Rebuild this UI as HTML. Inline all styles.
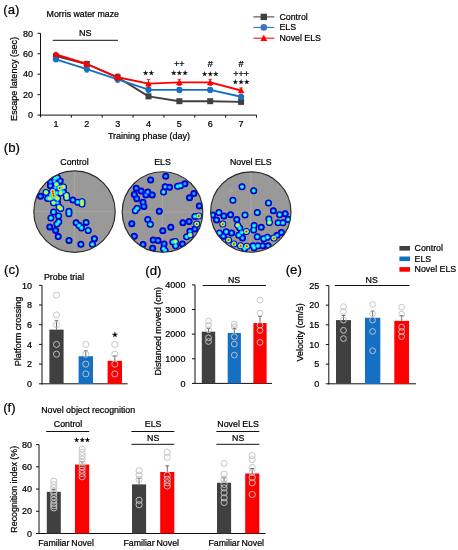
<!DOCTYPE html>
<html><head><meta charset="utf-8"><title>Figure</title>
<style>
html,body{margin:0;padding:0;background:#fff;}
body{width:458px;height:550px;overflow:hidden;}
svg{display:block;font-family:"Liberation Sans",Arial,sans-serif;}
text{stroke:#000;stroke-width:0.22px;}
</style></head><body>
<svg width="458" height="550" viewBox="0 0 458 550">
<rect width="458" height="550" fill="#fff"/>
<text x="3.3" y="14.3" font-size="13.2" text-anchor="start" fill="#000">(a)</text>
<text x="46.6" y="17" font-size="8.8" text-anchor="start" fill="#000">Morris water maze</text>
<line x1="40.5" y1="33.3" x2="40.5" y2="117.3" stroke="#111" stroke-width="1"/>
<line x1="40.0" y1="115.1" x2="256.5" y2="115.1" stroke="#111" stroke-width="1"/>
<line x1="37.5" y1="115.1" x2="40.5" y2="115.1" stroke="#111" stroke-width="1"/>
<text x="33.1" y="118.3" font-size="9" text-anchor="end" fill="#000">0</text>
<line x1="37.5" y1="94.64999999999999" x2="40.5" y2="94.64999999999999" stroke="#111" stroke-width="1"/>
<text x="33.1" y="97.85" font-size="9" text-anchor="end" fill="#000">20</text>
<line x1="37.5" y1="74.19999999999999" x2="40.5" y2="74.19999999999999" stroke="#111" stroke-width="1"/>
<text x="33.1" y="77.39999999999999" font-size="9" text-anchor="end" fill="#000">40</text>
<line x1="37.5" y1="53.74999999999999" x2="40.5" y2="53.74999999999999" stroke="#111" stroke-width="1"/>
<text x="33.1" y="56.949999999999996" font-size="9" text-anchor="end" fill="#000">60</text>
<line x1="37.5" y1="33.3" x2="40.5" y2="33.3" stroke="#111" stroke-width="1"/>
<text x="33.1" y="36.5" font-size="9" text-anchor="end" fill="#000">80</text>
<line x1="71.35714285714286" y1="115.1" x2="71.35714285714286" y2="117.69999999999999" stroke="#111" stroke-width="1"/>
<line x1="102.21428571428572" y1="115.1" x2="102.21428571428572" y2="117.69999999999999" stroke="#111" stroke-width="1"/>
<line x1="133.07142857142856" y1="115.1" x2="133.07142857142856" y2="117.69999999999999" stroke="#111" stroke-width="1"/>
<line x1="163.92857142857144" y1="115.1" x2="163.92857142857144" y2="117.69999999999999" stroke="#111" stroke-width="1"/>
<line x1="194.78571428571428" y1="115.1" x2="194.78571428571428" y2="117.69999999999999" stroke="#111" stroke-width="1"/>
<line x1="225.64285714285714" y1="115.1" x2="225.64285714285714" y2="117.69999999999999" stroke="#111" stroke-width="1"/>
<line x1="256.5" y1="115.1" x2="256.5" y2="117.69999999999999" stroke="#111" stroke-width="1"/>
<text x="55.92857142857143" y="126.8" font-size="9" text-anchor="middle" fill="#000">1</text>
<text x="86.78571428571428" y="126.8" font-size="9" text-anchor="middle" fill="#000">2</text>
<text x="117.64285714285714" y="126.8" font-size="9" text-anchor="middle" fill="#000">3</text>
<text x="148.5" y="126.8" font-size="9" text-anchor="middle" fill="#000">4</text>
<text x="179.35714285714286" y="126.8" font-size="9" text-anchor="middle" fill="#000">5</text>
<text x="210.21428571428572" y="126.8" font-size="9" text-anchor="middle" fill="#000">6</text>
<text x="241.07142857142858" y="126.8" font-size="9" text-anchor="middle" fill="#000">7</text>
<text x="149" y="138.6" font-size="9.0" text-anchor="middle" fill="#000">Training phase (day)</text>
<text x="16.9" y="78.9" font-size="9.05" text-anchor="middle" fill="#000" transform="rotate(-90 16.9 78.9)">Escape latency (sec)</text>
<line x1="55.92857142857143" y1="54.15899999999999" x2="55.92857142857143" y2="58.248999999999995" stroke="#404040" stroke-width="0.8"/>
<line x1="54.12857142857143" y1="54.15899999999999" x2="57.72857142857143" y2="54.15899999999999" stroke="#404040" stroke-width="0.8"/>
<line x1="54.12857142857143" y1="58.248999999999995" x2="57.72857142857143" y2="58.248999999999995" stroke="#404040" stroke-width="0.8"/>
<line x1="86.78571428571428" y1="61.418749999999996" x2="86.78571428571428" y2="66.53125" stroke="#404040" stroke-width="0.8"/>
<line x1="84.98571428571428" y1="61.418749999999996" x2="88.58571428571427" y2="61.418749999999996" stroke="#404040" stroke-width="0.8"/>
<line x1="84.98571428571428" y1="66.53125" x2="88.58571428571427" y2="66.53125" stroke="#404040" stroke-width="0.8"/>
<line x1="117.64285714285714" y1="74.2" x2="117.64285714285714" y2="80.335" stroke="#404040" stroke-width="0.8"/>
<line x1="115.84285714285714" y1="74.2" x2="119.44285714285714" y2="74.2" stroke="#404040" stroke-width="0.8"/>
<line x1="115.84285714285714" y1="80.335" x2="119.44285714285714" y2="80.335" stroke="#404040" stroke-width="0.8"/>
<line x1="148.5" y1="94.34325" x2="148.5" y2="98.43325" stroke="#404040" stroke-width="0.8"/>
<line x1="146.7" y1="94.34325" x2="150.3" y2="94.34325" stroke="#404040" stroke-width="0.8"/>
<line x1="146.7" y1="98.43325" x2="150.3" y2="98.43325" stroke="#404040" stroke-width="0.8"/>
<line x1="179.35714285714286" y1="99.66024999999999" x2="179.35714285714286" y2="102.72774999999999" stroke="#404040" stroke-width="0.8"/>
<line x1="177.55714285714285" y1="99.66024999999999" x2="181.15714285714287" y2="99.66024999999999" stroke="#404040" stroke-width="0.8"/>
<line x1="177.55714285714285" y1="102.72774999999999" x2="181.15714285714287" y2="102.72774999999999" stroke="#404040" stroke-width="0.8"/>
<line x1="210.21428571428572" y1="99.66024999999999" x2="210.21428571428572" y2="102.72774999999999" stroke="#404040" stroke-width="0.8"/>
<line x1="208.4142857142857" y1="99.66024999999999" x2="212.01428571428573" y2="99.66024999999999" stroke="#404040" stroke-width="0.8"/>
<line x1="208.4142857142857" y1="102.72774999999999" x2="212.01428571428573" y2="102.72774999999999" stroke="#404040" stroke-width="0.8"/>
<line x1="241.07142857142858" y1="100.37599999999999" x2="241.07142857142858" y2="103.44349999999999" stroke="#404040" stroke-width="0.8"/>
<line x1="239.27142857142857" y1="100.37599999999999" x2="242.8714285714286" y2="100.37599999999999" stroke="#404040" stroke-width="0.8"/>
<line x1="239.27142857142857" y1="103.44349999999999" x2="242.8714285714286" y2="103.44349999999999" stroke="#404040" stroke-width="0.8"/>
<polyline points="55.9,56.2 86.8,64.0 117.6,77.3 148.5,96.4 179.4,101.2 210.2,101.2 241.1,101.9" fill="none" stroke="#404040" stroke-width="1.9" stroke-linejoin="round"/>
<rect x="52.92857142857143" y="53.20399999999999" width="6" height="6" fill="#404040"/>
<rect x="83.78571428571428" y="60.974999999999994" width="6" height="6" fill="#404040"/>
<rect x="114.64285714285714" y="74.2675" width="6" height="6" fill="#404040"/>
<rect x="145.5" y="93.38825" width="6" height="6" fill="#404040"/>
<rect x="176.35714285714286" y="98.19399999999999" width="6" height="6" fill="#404040"/>
<rect x="207.21428571428572" y="98.19399999999999" width="6" height="6" fill="#404040"/>
<rect x="238.07142857142858" y="98.90974999999999" width="6" height="6" fill="#404040"/>
<line x1="55.92857142857143" y1="57.226499999999994" x2="55.92857142857143" y2="61.3165" stroke="#1470c4" stroke-width="0.8"/>
<line x1="54.12857142857143" y1="57.226499999999994" x2="57.72857142857143" y2="57.226499999999994" stroke="#1470c4" stroke-width="0.8"/>
<line x1="54.12857142857143" y1="61.3165" x2="57.72857142857143" y2="61.3165" stroke="#1470c4" stroke-width="0.8"/>
<line x1="86.78571428571428" y1="66.02" x2="86.78571428571428" y2="72.15499999999999" stroke="#1470c4" stroke-width="0.8"/>
<line x1="84.98571428571428" y1="66.02" x2="88.58571428571427" y2="66.02" stroke="#1470c4" stroke-width="0.8"/>
<line x1="84.98571428571428" y1="72.15499999999999" x2="88.58571428571427" y2="72.15499999999999" stroke="#1470c4" stroke-width="0.8"/>
<line x1="117.64285714285714" y1="76.245" x2="117.64285714285714" y2="82.38" stroke="#1470c4" stroke-width="0.8"/>
<line x1="115.84285714285714" y1="76.245" x2="119.44285714285714" y2="76.245" stroke="#1470c4" stroke-width="0.8"/>
<line x1="115.84285714285714" y1="82.38" x2="119.44285714285714" y2="82.38" stroke="#1470c4" stroke-width="0.8"/>
<line x1="148.5" y1="86.6745" x2="148.5" y2="92.80949999999999" stroke="#1470c4" stroke-width="0.8"/>
<line x1="146.7" y1="86.6745" x2="150.3" y2="86.6745" stroke="#1470c4" stroke-width="0.8"/>
<line x1="146.7" y1="92.80949999999999" x2="150.3" y2="92.80949999999999" stroke="#1470c4" stroke-width="0.8"/>
<line x1="179.35714285714286" y1="87.90149999999998" x2="179.35714285714286" y2="91.99149999999999" stroke="#1470c4" stroke-width="0.8"/>
<line x1="177.55714285714285" y1="87.90149999999998" x2="181.15714285714287" y2="87.90149999999998" stroke="#1470c4" stroke-width="0.8"/>
<line x1="177.55714285714285" y1="91.99149999999999" x2="181.15714285714287" y2="91.99149999999999" stroke="#1470c4" stroke-width="0.8"/>
<line x1="210.21428571428572" y1="87.90149999999998" x2="210.21428571428572" y2="91.99149999999999" stroke="#1470c4" stroke-width="0.8"/>
<line x1="208.4142857142857" y1="87.90149999999998" x2="212.01428571428573" y2="87.90149999999998" stroke="#1470c4" stroke-width="0.8"/>
<line x1="208.4142857142857" y1="91.99149999999999" x2="212.01428571428573" y2="91.99149999999999" stroke="#1470c4" stroke-width="0.8"/>
<line x1="241.07142857142858" y1="94.75224999999999" x2="241.07142857142858" y2="98.84224999999999" stroke="#1470c4" stroke-width="0.8"/>
<line x1="239.27142857142857" y1="94.75224999999999" x2="242.8714285714286" y2="94.75224999999999" stroke="#1470c4" stroke-width="0.8"/>
<line x1="239.27142857142857" y1="98.84224999999999" x2="242.8714285714286" y2="98.84224999999999" stroke="#1470c4" stroke-width="0.8"/>
<polyline points="55.9,59.3 86.8,69.1 117.6,79.3 148.5,89.7 179.4,89.9 210.2,89.9 241.1,96.8" fill="none" stroke="#1470c4" stroke-width="1.9" stroke-linejoin="round"/>
<circle cx="55.9" cy="59.3" r="3.1" fill="#1470c4"/>
<circle cx="86.8" cy="69.1" r="3.1" fill="#1470c4"/>
<circle cx="117.6" cy="79.3" r="3.1" fill="#1470c4"/>
<circle cx="148.5" cy="89.7" r="3.1" fill="#1470c4"/>
<circle cx="179.4" cy="89.9" r="3.1" fill="#1470c4"/>
<circle cx="210.2" cy="89.9" r="3.1" fill="#1470c4"/>
<circle cx="241.1" cy="96.8" r="3.1" fill="#1470c4"/>
<line x1="55.92857142857143" y1="52.42075" x2="55.92857142857143" y2="56.51075" stroke="#ff0000" stroke-width="0.8"/>
<line x1="54.12857142857143" y1="52.42075" x2="57.72857142857143" y2="52.42075" stroke="#ff0000" stroke-width="0.8"/>
<line x1="54.12857142857143" y1="56.51075" x2="57.72857142857143" y2="56.51075" stroke="#ff0000" stroke-width="0.8"/>
<line x1="86.78571428571428" y1="61.418749999999996" x2="86.78571428571428" y2="66.53125" stroke="#ff0000" stroke-width="0.8"/>
<line x1="84.98571428571428" y1="61.418749999999996" x2="88.58571428571427" y2="61.418749999999996" stroke="#ff0000" stroke-width="0.8"/>
<line x1="84.98571428571428" y1="66.53125" x2="88.58571428571427" y2="66.53125" stroke="#ff0000" stroke-width="0.8"/>
<line x1="117.64285714285714" y1="74.2" x2="117.64285714285714" y2="80.335" stroke="#ff0000" stroke-width="0.8"/>
<line x1="115.84285714285714" y1="74.2" x2="119.44285714285714" y2="74.2" stroke="#ff0000" stroke-width="0.8"/>
<line x1="115.84285714285714" y1="80.335" x2="119.44285714285714" y2="80.335" stroke="#ff0000" stroke-width="0.8"/>
<line x1="148.5" y1="79.517" x2="148.5" y2="87.697" stroke="#ff0000" stroke-width="0.8"/>
<line x1="146.7" y1="79.517" x2="150.3" y2="79.517" stroke="#ff0000" stroke-width="0.8"/>
<line x1="146.7" y1="87.697" x2="150.3" y2="87.697" stroke="#ff0000" stroke-width="0.8"/>
<line x1="179.35714285714286" y1="79.3125" x2="179.35714285714286" y2="85.44749999999999" stroke="#ff0000" stroke-width="0.8"/>
<line x1="177.55714285714285" y1="79.3125" x2="181.15714285714287" y2="79.3125" stroke="#ff0000" stroke-width="0.8"/>
<line x1="177.55714285714285" y1="85.44749999999999" x2="181.15714285714287" y2="85.44749999999999" stroke="#ff0000" stroke-width="0.8"/>
<line x1="210.21428571428572" y1="79.3125" x2="210.21428571428572" y2="85.44749999999999" stroke="#ff0000" stroke-width="0.8"/>
<line x1="208.4142857142857" y1="79.3125" x2="212.01428571428573" y2="79.3125" stroke="#ff0000" stroke-width="0.8"/>
<line x1="208.4142857142857" y1="85.44749999999999" x2="212.01428571428573" y2="85.44749999999999" stroke="#ff0000" stroke-width="0.8"/>
<line x1="241.07142857142858" y1="87.90149999999998" x2="241.07142857142858" y2="93.014" stroke="#ff0000" stroke-width="0.8"/>
<line x1="239.27142857142857" y1="87.90149999999998" x2="242.8714285714286" y2="87.90149999999998" stroke="#ff0000" stroke-width="0.8"/>
<line x1="239.27142857142857" y1="93.014" x2="242.8714285714286" y2="93.014" stroke="#ff0000" stroke-width="0.8"/>
<polyline points="55.9,54.5 86.8,64.0 117.6,77.3 148.5,83.6 179.4,82.4 210.2,82.4 241.1,90.5" fill="none" stroke="#ff0000" stroke-width="1.9" stroke-linejoin="round"/>
<polygon points="55.9,51.2 52.6,57.1 59.2,57.1" fill="#ff0000"/>
<polygon points="86.8,60.7 83.5,66.6 90.1,66.6" fill="#ff0000"/>
<polygon points="117.6,74.0 114.3,79.9 120.9,79.9" fill="#ff0000"/>
<polygon points="148.5,80.3 145.2,86.2 151.8,86.2" fill="#ff0000"/>
<polygon points="179.4,79.1 176.1,85.0 182.7,85.0" fill="#ff0000"/>
<polygon points="210.2,79.1 206.9,85.0 213.5,85.0" fill="#ff0000"/>
<polygon points="241.1,87.2 237.8,93.1 244.4,93.1" fill="#ff0000"/>
<text x="85.2" y="36.2" font-size="9" text-anchor="middle" fill="#000">NS</text>
<line x1="52.7" y1="40.3" x2="118" y2="40.3" stroke="#111" stroke-width="1"/>
<text x="148.5" y="74.8" font-size="6.3" text-anchor="middle" fill="#000" font-family="DejaVu Sans, sans-serif">★★</text>
<text x="179.35714285714286" y="66.5" font-size="9" text-anchor="middle" fill="#000">++</text>
<text x="179.35714285714286" y="75.3" font-size="6.3" text-anchor="middle" fill="#000" font-family="DejaVu Sans, sans-serif">★★★</text>
<text x="210.21428571428572" y="66.5" font-size="9" text-anchor="middle" fill="#000">#</text>
<text x="210.21428571428572" y="76" font-size="6.3" text-anchor="middle" fill="#000" font-family="DejaVu Sans, sans-serif">★★★</text>
<text x="241.07142857142858" y="66.5" font-size="9" text-anchor="middle" fill="#000">#</text>
<text x="241.07142857142858" y="76.5" font-size="9" text-anchor="middle" fill="#000">+++</text>
<text x="241.07142857142858" y="84.2" font-size="6.3" text-anchor="middle" fill="#000" font-family="DejaVu Sans, sans-serif">★★★</text>
<line x1="253.4" y1="16.9" x2="274.3" y2="16.9" stroke="#404040" stroke-width="1.05"/>
<rect x="260.6" y="13.7" width="6.4" height="6.4" fill="#404040"/>
<text x="279.4" y="19.799999999999997" font-size="8.8" text-anchor="start" fill="#000">Control</text>
<line x1="253.4" y1="27.4" x2="274.3" y2="27.4" stroke="#1470c4" stroke-width="1.05"/>
<circle cx="263.8" cy="27.4" r="3.3" fill="#3f70c6"/>
<text x="279.4" y="30.299999999999997" font-size="8.8" text-anchor="start" fill="#000">ELS</text>
<line x1="253.4" y1="38.2" x2="274.3" y2="38.2" stroke="#ff0000" stroke-width="1.05"/>
<polygon points="263.8,34.6 260.40000000000003,40.900000000000006 267.2,40.900000000000006" fill="#ff0000"/>
<text x="279.4" y="41.1" font-size="8.8" text-anchor="start" fill="#000">Novel ELS</text>
<text x="3.8" y="151.9" font-size="13.2" text-anchor="start" fill="#000">(b)</text>
<defs><filter id="bl" x="-5%" y="-5%" width="110%" height="110%"><feGaussianBlur stdDeviation="0.38"/></filter></defs>
<text x="74.5" y="164.6" font-size="8.8" text-anchor="middle" fill="#000">Control</text>
<clipPath id="cp1"><circle cx="74.5" cy="211.6" r="40.7"/></clipPath>
<circle cx="74.5" cy="211.6" r="40.7" fill="#999999"/>
<line x1="33.8" y1="211.6" x2="115.2" y2="211.6" stroke="#adadad" stroke-width="0.7"/>
<line x1="74.5" y1="170.89999999999998" x2="74.5" y2="252.3" stroke="#adadad" stroke-width="0.7"/>
<g clip-path="url(#cp1)"><g filter="url(#bl)">
<circle cx="55.3" cy="178.2" r="3.5" fill="#000098"/>
<circle cx="57.2" cy="177.3" r="3.5" fill="#000098"/>
<circle cx="60.2" cy="180.9" r="3.5" fill="#000098"/>
<circle cx="50.4" cy="185.8" r="3.5" fill="#000098"/>
<circle cx="56.4" cy="184.2" r="3.5" fill="#000098"/>
<circle cx="59.7" cy="188.0" r="3.5" fill="#000098"/>
<circle cx="61.8" cy="187.5" r="3.5" fill="#000098"/>
<circle cx="63.5" cy="186.9" r="3.5" fill="#000098"/>
<circle cx="46.0" cy="192.4" r="3.5" fill="#000098"/>
<circle cx="52.6" cy="191.3" r="3.5" fill="#000098"/>
<circle cx="53.1" cy="193.5" r="3.5" fill="#000098"/>
<circle cx="53.6" cy="195.7" r="3.5" fill="#000098"/>
<circle cx="55.8" cy="197.3" r="3.5" fill="#000098"/>
<circle cx="57.5" cy="198.6" r="3.5" fill="#000098"/>
<circle cx="60.7" cy="190.7" r="3.5" fill="#000098"/>
<circle cx="60.7" cy="192.9" r="3.5" fill="#000098"/>
<circle cx="66.5" cy="195.3" r="3.5" fill="#000098"/>
<circle cx="66.7" cy="197.8" r="3.5" fill="#000098"/>
<circle cx="47.6" cy="198.4" r="3.5" fill="#000098"/>
<circle cx="49.8" cy="198.4" r="3.5" fill="#000098"/>
<circle cx="51.8" cy="198.2" r="3.5" fill="#000098"/>
<circle cx="53.6" cy="202.8" r="3.5" fill="#000098"/>
<circle cx="59.1" cy="207.1" r="3.5" fill="#000098"/>
<circle cx="60.7" cy="208.4" r="3.5" fill="#000098"/>
<circle cx="57.5" cy="202.8" r="3.5" fill="#000098"/>
<circle cx="72.8" cy="200.0" r="3.5" fill="#000098"/>
<circle cx="77.7" cy="202.2" r="3.5" fill="#000098"/>
<circle cx="82.0" cy="201.7" r="3.5" fill="#000098"/>
<circle cx="82.0" cy="204.1" r="3.5" fill="#000098"/>
<circle cx="53.6" cy="212.0" r="3.5" fill="#000098"/>
<circle cx="68.9" cy="211.3" r="3.5" fill="#000098"/>
<circle cx="68.9" cy="213.7" r="3.5" fill="#000098"/>
<circle cx="40.5" cy="196.2" r="3.5" fill="#000098"/>
<circle cx="58.6" cy="215.9" r="3.5" fill="#000098"/>
<circle cx="50.9" cy="218.0" r="3.5" fill="#000098"/>
<circle cx="50.4" cy="182.0" r="3.5" fill="#000098"/>
<circle cx="63.5" cy="191.8" r="3.5" fill="#000098"/>
<circle cx="56.4" cy="192.9" r="3.5" fill="#000098"/>
<circle cx="50.9" cy="195.1" r="3.5" fill="#000098"/>
<circle cx="55.3" cy="187.5" r="3.5" fill="#000098"/>
<circle cx="54.2" cy="180.9" r="3.5" fill="#000098"/>
<circle cx="58.8" cy="221.8" r="3.5" fill="#000098"/>
<circle cx="56.9" cy="224.1" r="3.5" fill="#000098"/>
<circle cx="49.8" cy="227.0" r="3.5" fill="#000098"/>
<circle cx="55.6" cy="230.4" r="3.5" fill="#000098"/>
<circle cx="58.2" cy="236.6" r="3.5" fill="#000098"/>
<circle cx="69.0" cy="240.4" r="3.5" fill="#000098"/>
<circle cx="80.9" cy="244.3" r="3.5" fill="#000098"/>
<circle cx="92.4" cy="244.3" r="3.5" fill="#000098"/>
<circle cx="94.4" cy="238.7" r="3.5" fill="#000098"/>
<circle cx="88.2" cy="230.4" r="3.5" fill="#000098"/>
<circle cx="81.5" cy="227.9" r="3.5" fill="#000098"/>
<circle cx="79.0" cy="225.6" r="3.5" fill="#000098"/>
<circle cx="76.1" cy="222.8" r="3.5" fill="#000098"/>
<circle cx="86.1" cy="222.4" r="3.5" fill="#000098"/>
<circle cx="55.3" cy="178.2" r="3.0" fill="#0000d8"/>
<circle cx="57.2" cy="177.3" r="3.0" fill="#0000d8"/>
<circle cx="60.2" cy="180.9" r="3.0" fill="#0000d8"/>
<circle cx="50.4" cy="185.8" r="3.0" fill="#0000d8"/>
<circle cx="56.4" cy="184.2" r="3.0" fill="#0000d8"/>
<circle cx="59.7" cy="188.0" r="3.0" fill="#0000d8"/>
<circle cx="61.8" cy="187.5" r="3.0" fill="#0000d8"/>
<circle cx="63.5" cy="186.9" r="3.0" fill="#0000d8"/>
<circle cx="46.0" cy="192.4" r="3.0" fill="#0000d8"/>
<circle cx="52.6" cy="191.3" r="3.0" fill="#0000d8"/>
<circle cx="53.1" cy="193.5" r="3.0" fill="#0000d8"/>
<circle cx="53.6" cy="195.7" r="3.0" fill="#0000d8"/>
<circle cx="55.8" cy="197.3" r="3.0" fill="#0000d8"/>
<circle cx="57.5" cy="198.6" r="3.0" fill="#0000d8"/>
<circle cx="60.7" cy="190.7" r="3.0" fill="#0000d8"/>
<circle cx="60.7" cy="192.9" r="3.0" fill="#0000d8"/>
<circle cx="66.5" cy="195.3" r="3.0" fill="#0000d8"/>
<circle cx="66.7" cy="197.8" r="3.0" fill="#0000d8"/>
<circle cx="47.6" cy="198.4" r="3.0" fill="#0000d8"/>
<circle cx="49.8" cy="198.4" r="3.0" fill="#0000d8"/>
<circle cx="51.8" cy="198.2" r="3.0" fill="#0000d8"/>
<circle cx="53.6" cy="202.8" r="3.0" fill="#0000d8"/>
<circle cx="59.1" cy="207.1" r="3.0" fill="#0000d8"/>
<circle cx="60.7" cy="208.4" r="3.0" fill="#0000d8"/>
<circle cx="57.5" cy="202.8" r="3.0" fill="#0000d8"/>
<circle cx="72.8" cy="200.0" r="3.0" fill="#0000d8"/>
<circle cx="77.7" cy="202.2" r="3.0" fill="#0000d8"/>
<circle cx="82.0" cy="201.7" r="3.0" fill="#0000d8"/>
<circle cx="82.0" cy="204.1" r="3.0" fill="#0000d8"/>
<circle cx="53.6" cy="212.0" r="3.0" fill="#0000d8"/>
<circle cx="68.9" cy="211.3" r="3.0" fill="#0000d8"/>
<circle cx="68.9" cy="213.7" r="3.0" fill="#0000d8"/>
<circle cx="40.5" cy="196.2" r="3.0" fill="#0000d8"/>
<circle cx="58.6" cy="215.9" r="3.0" fill="#0000d8"/>
<circle cx="50.9" cy="218.0" r="3.0" fill="#0000d8"/>
<circle cx="50.4" cy="182.0" r="3.0" fill="#0000d8"/>
<circle cx="63.5" cy="191.8" r="3.0" fill="#0000d8"/>
<circle cx="56.4" cy="192.9" r="3.0" fill="#0000d8"/>
<circle cx="50.9" cy="195.1" r="3.0" fill="#0000d8"/>
<circle cx="55.3" cy="187.5" r="3.0" fill="#0000d8"/>
<circle cx="54.2" cy="180.9" r="3.0" fill="#0000d8"/>
<circle cx="58.8" cy="221.8" r="3.0" fill="#0000d8"/>
<circle cx="56.9" cy="224.1" r="3.0" fill="#0000d8"/>
<circle cx="49.8" cy="227.0" r="3.0" fill="#0000d8"/>
<circle cx="55.6" cy="230.4" r="3.0" fill="#0000d8"/>
<circle cx="58.2" cy="236.6" r="3.0" fill="#0000d8"/>
<circle cx="69.0" cy="240.4" r="3.0" fill="#0000d8"/>
<circle cx="80.9" cy="244.3" r="3.0" fill="#0000d8"/>
<circle cx="92.4" cy="244.3" r="3.0" fill="#0000d8"/>
<circle cx="94.4" cy="238.7" r="3.0" fill="#0000d8"/>
<circle cx="88.2" cy="230.4" r="3.0" fill="#0000d8"/>
<circle cx="81.5" cy="227.9" r="3.0" fill="#0000d8"/>
<circle cx="79.0" cy="225.6" r="3.0" fill="#0000d8"/>
<circle cx="76.1" cy="222.8" r="3.0" fill="#0000d8"/>
<circle cx="86.1" cy="222.4" r="3.0" fill="#0000d8"/>
<circle cx="55.3" cy="178.2" r="2.4" fill="#0010ff"/>
<circle cx="57.2" cy="177.3" r="2.4" fill="#0010ff"/>
<circle cx="60.2" cy="180.9" r="2.4" fill="#0010ff"/>
<circle cx="50.4" cy="185.8" r="2.4" fill="#0010ff"/>
<circle cx="56.4" cy="184.2" r="2.4" fill="#0010ff"/>
<circle cx="59.7" cy="188.0" r="2.4" fill="#0010ff"/>
<circle cx="61.8" cy="187.5" r="2.4" fill="#0010ff"/>
<circle cx="63.5" cy="186.9" r="2.4" fill="#0010ff"/>
<circle cx="46.0" cy="192.4" r="2.4" fill="#0010ff"/>
<circle cx="52.6" cy="191.3" r="2.4" fill="#0010ff"/>
<circle cx="53.1" cy="193.5" r="2.4" fill="#0010ff"/>
<circle cx="53.6" cy="195.7" r="2.4" fill="#0010ff"/>
<circle cx="55.8" cy="197.3" r="2.4" fill="#0010ff"/>
<circle cx="57.5" cy="198.6" r="2.4" fill="#0010ff"/>
<circle cx="60.7" cy="190.7" r="2.4" fill="#0010ff"/>
<circle cx="60.7" cy="192.9" r="2.4" fill="#0010ff"/>
<circle cx="66.5" cy="195.3" r="2.4" fill="#0010ff"/>
<circle cx="66.7" cy="197.8" r="2.4" fill="#0010ff"/>
<circle cx="47.6" cy="198.4" r="2.4" fill="#0010ff"/>
<circle cx="49.8" cy="198.4" r="2.4" fill="#0010ff"/>
<circle cx="51.8" cy="198.2" r="2.4" fill="#0010ff"/>
<circle cx="53.6" cy="202.8" r="2.4" fill="#0010ff"/>
<circle cx="59.1" cy="207.1" r="2.4" fill="#0010ff"/>
<circle cx="60.7" cy="208.4" r="2.4" fill="#0010ff"/>
<circle cx="57.5" cy="202.8" r="2.4" fill="#0010ff"/>
<circle cx="72.8" cy="200.0" r="2.4" fill="#0010ff"/>
<circle cx="77.7" cy="202.2" r="2.4" fill="#0010ff"/>
<circle cx="82.0" cy="201.7" r="2.4" fill="#0010ff"/>
<circle cx="82.0" cy="204.1" r="2.4" fill="#0010ff"/>
<circle cx="53.6" cy="212.0" r="2.4" fill="#0010ff"/>
<circle cx="68.9" cy="211.3" r="2.4" fill="#0010ff"/>
<circle cx="68.9" cy="213.7" r="2.4" fill="#0010ff"/>
<circle cx="40.5" cy="196.2" r="2.4" fill="#0010ff"/>
<circle cx="58.6" cy="215.9" r="2.4" fill="#0010ff"/>
<circle cx="50.9" cy="218.0" r="2.4" fill="#0010ff"/>
<circle cx="50.4" cy="182.0" r="2.4" fill="#0010ff"/>
<circle cx="63.5" cy="191.8" r="2.4" fill="#0010ff"/>
<circle cx="56.4" cy="192.9" r="2.4" fill="#0010ff"/>
<circle cx="50.9" cy="195.1" r="2.4" fill="#0010ff"/>
<circle cx="55.3" cy="187.5" r="2.4" fill="#0010ff"/>
<circle cx="54.2" cy="180.9" r="2.4" fill="#0010ff"/>
<circle cx="58.8" cy="221.8" r="2.4" fill="#0010ff"/>
<circle cx="56.9" cy="224.1" r="2.4" fill="#0010ff"/>
<circle cx="49.8" cy="227.0" r="2.4" fill="#0010ff"/>
<circle cx="55.6" cy="230.4" r="2.4" fill="#0010ff"/>
<circle cx="58.2" cy="236.6" r="2.4" fill="#0010ff"/>
<circle cx="69.0" cy="240.4" r="2.4" fill="#0010ff"/>
<circle cx="80.9" cy="244.3" r="2.4" fill="#0010ff"/>
<circle cx="92.4" cy="244.3" r="2.4" fill="#0010ff"/>
<circle cx="94.4" cy="238.7" r="2.4" fill="#0010ff"/>
<circle cx="88.2" cy="230.4" r="2.4" fill="#0010ff"/>
<circle cx="81.5" cy="227.9" r="2.4" fill="#0010ff"/>
<circle cx="79.0" cy="225.6" r="2.4" fill="#0010ff"/>
<circle cx="76.1" cy="222.8" r="2.4" fill="#0010ff"/>
<circle cx="86.1" cy="222.4" r="2.4" fill="#0010ff"/>
<circle cx="55.3" cy="178.2" r="1.8" fill="#0050ff"/>
<circle cx="57.2" cy="177.3" r="1.8" fill="#0050ff"/>
<circle cx="60.2" cy="180.9" r="1.8" fill="#0050ff"/>
<circle cx="50.4" cy="185.8" r="1.8" fill="#0050ff"/>
<circle cx="56.4" cy="184.2" r="1.8" fill="#0050ff"/>
<circle cx="59.7" cy="188.0" r="1.8" fill="#0050ff"/>
<circle cx="61.8" cy="187.5" r="1.8" fill="#0050ff"/>
<circle cx="63.5" cy="186.9" r="1.8" fill="#0050ff"/>
<circle cx="46.0" cy="192.4" r="1.8" fill="#0050ff"/>
<circle cx="52.6" cy="191.3" r="1.8" fill="#0050ff"/>
<circle cx="53.1" cy="193.5" r="1.8" fill="#0050ff"/>
<circle cx="53.6" cy="195.7" r="1.8" fill="#0050ff"/>
<circle cx="55.8" cy="197.3" r="1.8" fill="#0050ff"/>
<circle cx="57.5" cy="198.6" r="1.8" fill="#0050ff"/>
<circle cx="60.7" cy="190.7" r="1.8" fill="#0050ff"/>
<circle cx="60.7" cy="192.9" r="1.8" fill="#0050ff"/>
<circle cx="66.5" cy="195.3" r="1.8" fill="#0050ff"/>
<circle cx="66.7" cy="197.8" r="1.8" fill="#0050ff"/>
<circle cx="47.6" cy="198.4" r="1.8" fill="#0050ff"/>
<circle cx="49.8" cy="198.4" r="1.8" fill="#0050ff"/>
<circle cx="51.8" cy="198.2" r="1.8" fill="#0050ff"/>
<circle cx="53.6" cy="202.8" r="1.8" fill="#0050ff"/>
<circle cx="59.1" cy="207.1" r="1.8" fill="#0050ff"/>
<circle cx="60.7" cy="208.4" r="1.8" fill="#0050ff"/>
<circle cx="57.5" cy="202.8" r="1.8" fill="#0050ff"/>
<circle cx="72.8" cy="200.0" r="1.8" fill="#0050ff"/>
<circle cx="77.7" cy="202.2" r="1.8" fill="#0050ff"/>
<circle cx="82.0" cy="201.7" r="1.8" fill="#0050ff"/>
<circle cx="82.0" cy="204.1" r="1.8" fill="#0050ff"/>
<circle cx="53.6" cy="212.0" r="1.8" fill="#0050ff"/>
<circle cx="68.9" cy="211.3" r="1.8" fill="#0050ff"/>
<circle cx="68.9" cy="213.7" r="1.8" fill="#0050ff"/>
<circle cx="40.5" cy="196.2" r="1.8" fill="#0050ff"/>
<circle cx="58.6" cy="215.9" r="1.8" fill="#0050ff"/>
<circle cx="50.9" cy="218.0" r="1.8" fill="#0050ff"/>
<circle cx="50.4" cy="182.0" r="1.8" fill="#0050ff"/>
<circle cx="63.5" cy="191.8" r="1.8" fill="#0050ff"/>
<circle cx="56.4" cy="192.9" r="1.8" fill="#0050ff"/>
<circle cx="50.9" cy="195.1" r="1.8" fill="#0050ff"/>
<circle cx="55.3" cy="187.5" r="1.8" fill="#0050ff"/>
<circle cx="54.2" cy="180.9" r="1.8" fill="#0050ff"/>
<circle cx="58.8" cy="221.8" r="1.8" fill="#0050ff"/>
<circle cx="56.9" cy="224.1" r="1.8" fill="#0050ff"/>
<circle cx="49.8" cy="227.0" r="1.8" fill="#0050ff"/>
<circle cx="55.6" cy="230.4" r="1.8" fill="#0050ff"/>
<circle cx="58.2" cy="236.6" r="1.8" fill="#0050ff"/>
<circle cx="69.0" cy="240.4" r="1.8" fill="#0050ff"/>
<circle cx="80.9" cy="244.3" r="1.8" fill="#0050ff"/>
<circle cx="92.4" cy="244.3" r="1.8" fill="#0050ff"/>
<circle cx="94.4" cy="238.7" r="1.8" fill="#0050ff"/>
<circle cx="88.2" cy="230.4" r="1.8" fill="#0050ff"/>
<circle cx="81.5" cy="227.9" r="1.8" fill="#0050ff"/>
<circle cx="79.0" cy="225.6" r="1.8" fill="#0050ff"/>
<circle cx="76.1" cy="222.8" r="1.8" fill="#0050ff"/>
<circle cx="86.1" cy="222.4" r="1.8" fill="#0050ff"/>
<circle cx="55.3" cy="178.2" r="1.25" fill="#28a8ff"/>
<circle cx="57.2" cy="177.3" r="1.25" fill="#28a8ff"/>
<circle cx="60.2" cy="180.9" r="1.25" fill="#28a8ff"/>
<circle cx="50.4" cy="185.8" r="1.25" fill="#28a8ff"/>
<circle cx="56.4" cy="184.2" r="1.25" fill="#28a8ff"/>
<circle cx="59.7" cy="188.0" r="1.25" fill="#28a8ff"/>
<circle cx="61.8" cy="187.5" r="1.25" fill="#28a8ff"/>
<circle cx="63.5" cy="186.9" r="1.25" fill="#28a8ff"/>
<circle cx="46.0" cy="192.4" r="1.25" fill="#28a8ff"/>
<circle cx="52.6" cy="191.3" r="1.25" fill="#28a8ff"/>
<circle cx="53.1" cy="193.5" r="1.25" fill="#28a8ff"/>
<circle cx="53.6" cy="195.7" r="1.25" fill="#28a8ff"/>
<circle cx="55.8" cy="197.3" r="1.25" fill="#28a8ff"/>
<circle cx="57.5" cy="198.6" r="1.25" fill="#28a8ff"/>
<circle cx="60.7" cy="190.7" r="1.25" fill="#28a8ff"/>
<circle cx="60.7" cy="192.9" r="1.25" fill="#28a8ff"/>
<circle cx="66.5" cy="195.3" r="1.25" fill="#28a8ff"/>
<circle cx="66.7" cy="197.8" r="1.25" fill="#28a8ff"/>
<circle cx="47.6" cy="198.4" r="1.25" fill="#28a8ff"/>
<circle cx="49.8" cy="198.4" r="1.25" fill="#28a8ff"/>
<circle cx="51.8" cy="198.2" r="1.25" fill="#28a8ff"/>
<circle cx="53.6" cy="202.8" r="1.25" fill="#28a8ff"/>
<circle cx="59.1" cy="207.1" r="1.25" fill="#28a8ff"/>
<circle cx="60.7" cy="208.4" r="1.25" fill="#28a8ff"/>
<circle cx="57.5" cy="202.8" r="1.25" fill="#28a8ff"/>
<circle cx="72.8" cy="200.0" r="1.25" fill="#28a8ff"/>
<circle cx="77.7" cy="202.2" r="1.25" fill="#28a8ff"/>
<circle cx="82.0" cy="201.7" r="1.25" fill="#28a8ff"/>
<circle cx="82.0" cy="204.1" r="1.25" fill="#28a8ff"/>
<circle cx="53.6" cy="212.0" r="1.25" fill="#28a8ff"/>
<circle cx="68.9" cy="211.3" r="1.25" fill="#28a8ff"/>
<circle cx="68.9" cy="213.7" r="1.25" fill="#28a8ff"/>
<circle cx="40.5" cy="196.2" r="1.25" fill="#28a8ff"/>
<circle cx="58.6" cy="215.9" r="1.25" fill="#28a8ff"/>
<circle cx="50.9" cy="218.0" r="1.25" fill="#28a8ff"/>
<circle cx="50.4" cy="182.0" r="1.25" fill="#28a8ff"/>
<circle cx="63.5" cy="191.8" r="1.25" fill="#28a8ff"/>
<circle cx="56.4" cy="192.9" r="1.25" fill="#28a8ff"/>
<circle cx="50.9" cy="195.1" r="1.25" fill="#28a8ff"/>
<circle cx="55.3" cy="187.5" r="1.25" fill="#28a8ff"/>
<circle cx="54.2" cy="180.9" r="1.25" fill="#28a8ff"/>
<circle cx="58.8" cy="221.8" r="1.25" fill="#28a8ff"/>
<circle cx="56.9" cy="224.1" r="1.25" fill="#28a8ff"/>
<circle cx="49.8" cy="227.0" r="1.25" fill="#28a8ff"/>
<circle cx="55.6" cy="230.4" r="1.25" fill="#28a8ff"/>
<circle cx="58.2" cy="236.6" r="1.25" fill="#28a8ff"/>
<circle cx="69.0" cy="240.4" r="1.25" fill="#28a8ff"/>
<circle cx="80.9" cy="244.3" r="1.25" fill="#28a8ff"/>
<circle cx="92.4" cy="244.3" r="1.25" fill="#28a8ff"/>
<circle cx="94.4" cy="238.7" r="1.25" fill="#28a8ff"/>
<circle cx="88.2" cy="230.4" r="1.25" fill="#28a8ff"/>
<circle cx="81.5" cy="227.9" r="1.25" fill="#28a8ff"/>
<circle cx="79.0" cy="225.6" r="1.25" fill="#28a8ff"/>
<circle cx="76.1" cy="222.8" r="1.25" fill="#28a8ff"/>
<circle cx="86.1" cy="222.4" r="1.25" fill="#28a8ff"/>
<circle cx="55.3" cy="178.2" r="1.5" fill="#18a8ff"/>
<circle cx="57.2" cy="177.3" r="1.5" fill="#18a8ff"/>
<circle cx="60.2" cy="180.9" r="1.5" fill="#18a8ff"/>
<circle cx="50.4" cy="185.8" r="1.5" fill="#18a8ff"/>
<circle cx="56.4" cy="184.2" r="1.5" fill="#18a8ff"/>
<circle cx="59.7" cy="188.0" r="1.5" fill="#18a8ff"/>
<circle cx="61.8" cy="187.5" r="1.5" fill="#18a8ff"/>
<circle cx="63.5" cy="186.9" r="1.5" fill="#18a8ff"/>
<circle cx="46.0" cy="192.4" r="1.5" fill="#18a8ff"/>
<circle cx="52.6" cy="191.3" r="1.5" fill="#18a8ff"/>
<circle cx="53.1" cy="193.5" r="1.5" fill="#18a8ff"/>
<circle cx="53.6" cy="195.7" r="1.5" fill="#18a8ff"/>
<circle cx="55.8" cy="197.3" r="1.5" fill="#18a8ff"/>
<circle cx="57.5" cy="198.6" r="1.5" fill="#18a8ff"/>
<circle cx="60.7" cy="190.7" r="1.5" fill="#18a8ff"/>
<circle cx="60.7" cy="192.9" r="1.5" fill="#18a8ff"/>
<circle cx="66.5" cy="195.3" r="1.5" fill="#18a8ff"/>
<circle cx="66.7" cy="197.8" r="1.5" fill="#18a8ff"/>
<circle cx="47.6" cy="198.4" r="1.5" fill="#18a8ff"/>
<circle cx="49.8" cy="198.4" r="1.5" fill="#18a8ff"/>
<circle cx="51.8" cy="198.2" r="1.5" fill="#18a8ff"/>
<circle cx="53.6" cy="202.8" r="1.5" fill="#18a8ff"/>
<circle cx="59.1" cy="207.1" r="1.5" fill="#18a8ff"/>
<circle cx="60.7" cy="208.4" r="1.5" fill="#18a8ff"/>
<circle cx="57.5" cy="202.8" r="1.5" fill="#18a8ff"/>
<circle cx="72.8" cy="200.0" r="1.5" fill="#18a8ff"/>
<circle cx="77.7" cy="202.2" r="1.5" fill="#18a8ff"/>
<circle cx="82.0" cy="201.7" r="1.5" fill="#18a8ff"/>
<circle cx="82.0" cy="204.1" r="1.5" fill="#18a8ff"/>
<circle cx="53.6" cy="212.0" r="1.5" fill="#18a8ff"/>
<circle cx="68.9" cy="211.3" r="1.5" fill="#18a8ff"/>
<circle cx="68.9" cy="213.7" r="1.5" fill="#18a8ff"/>
<circle cx="58.6" cy="215.9" r="1.5" fill="#18a8ff"/>
<circle cx="50.9" cy="218.0" r="1.5" fill="#18a8ff"/>
<circle cx="63.5" cy="191.8" r="1.5" fill="#18a8ff"/>
<circle cx="56.4" cy="192.9" r="1.5" fill="#18a8ff"/>
<circle cx="50.9" cy="195.1" r="1.5" fill="#18a8ff"/>
<circle cx="55.3" cy="187.5" r="1.5" fill="#18a8ff"/>
<circle cx="54.2" cy="180.9" r="1.5" fill="#18a8ff"/>
<circle cx="58.8" cy="221.8" r="1.5" fill="#18a8ff"/>
<circle cx="56.9" cy="224.1" r="1.5" fill="#18a8ff"/>
<circle cx="58.2" cy="236.6" r="1.5" fill="#18a8ff"/>
<circle cx="69.0" cy="240.4" r="1.5" fill="#18a8ff"/>
<circle cx="80.9" cy="244.3" r="1.5" fill="#18a8ff"/>
<circle cx="92.4" cy="244.3" r="1.5" fill="#18a8ff"/>
<circle cx="94.4" cy="238.7" r="1.5" fill="#18a8ff"/>
<circle cx="88.2" cy="230.4" r="1.5" fill="#18a8ff"/>
<circle cx="81.5" cy="227.9" r="1.5" fill="#18a8ff"/>
<circle cx="79.0" cy="225.6" r="1.5" fill="#18a8ff"/>
<circle cx="76.1" cy="222.8" r="1.5" fill="#18a8ff"/>
<circle cx="86.1" cy="222.4" r="1.5" fill="#18a8ff"/>
<circle cx="55.3" cy="178.2" r="0.9" fill="#48e0ff"/>
<circle cx="57.2" cy="177.3" r="0.9" fill="#48e0ff"/>
<circle cx="60.2" cy="180.9" r="0.9" fill="#48e0ff"/>
<circle cx="50.4" cy="185.8" r="0.9" fill="#48e0ff"/>
<circle cx="56.4" cy="184.2" r="0.9" fill="#48e0ff"/>
<circle cx="59.7" cy="188.0" r="0.9" fill="#48e0ff"/>
<circle cx="61.8" cy="187.5" r="0.9" fill="#48e0ff"/>
<circle cx="63.5" cy="186.9" r="0.9" fill="#48e0ff"/>
<circle cx="46.0" cy="192.4" r="0.9" fill="#48e0ff"/>
<circle cx="52.6" cy="191.3" r="0.9" fill="#48e0ff"/>
<circle cx="53.1" cy="193.5" r="0.9" fill="#48e0ff"/>
<circle cx="53.6" cy="195.7" r="0.9" fill="#48e0ff"/>
<circle cx="55.8" cy="197.3" r="0.9" fill="#48e0ff"/>
<circle cx="57.5" cy="198.6" r="0.9" fill="#48e0ff"/>
<circle cx="60.7" cy="190.7" r="0.9" fill="#48e0ff"/>
<circle cx="60.7" cy="192.9" r="0.9" fill="#48e0ff"/>
<circle cx="66.5" cy="195.3" r="0.9" fill="#48e0ff"/>
<circle cx="66.7" cy="197.8" r="0.9" fill="#48e0ff"/>
<circle cx="47.6" cy="198.4" r="0.9" fill="#48e0ff"/>
<circle cx="49.8" cy="198.4" r="0.9" fill="#48e0ff"/>
<circle cx="51.8" cy="198.2" r="0.9" fill="#48e0ff"/>
<circle cx="53.6" cy="202.8" r="0.9" fill="#48e0ff"/>
<circle cx="59.1" cy="207.1" r="0.9" fill="#48e0ff"/>
<circle cx="60.7" cy="208.4" r="0.9" fill="#48e0ff"/>
<circle cx="57.5" cy="202.8" r="0.9" fill="#48e0ff"/>
<circle cx="72.8" cy="200.0" r="0.9" fill="#48e0ff"/>
<circle cx="77.7" cy="202.2" r="0.9" fill="#48e0ff"/>
<circle cx="82.0" cy="201.7" r="0.9" fill="#48e0ff"/>
<circle cx="82.0" cy="204.1" r="0.9" fill="#48e0ff"/>
<circle cx="53.6" cy="212.0" r="0.9" fill="#48e0ff"/>
<circle cx="68.9" cy="211.3" r="0.9" fill="#48e0ff"/>
<circle cx="68.9" cy="213.7" r="0.9" fill="#48e0ff"/>
<circle cx="58.6" cy="215.9" r="0.9" fill="#48e0ff"/>
<circle cx="50.9" cy="218.0" r="0.9" fill="#48e0ff"/>
<circle cx="63.5" cy="191.8" r="0.9" fill="#48e0ff"/>
<circle cx="56.4" cy="192.9" r="0.9" fill="#48e0ff"/>
<circle cx="50.9" cy="195.1" r="0.9" fill="#48e0ff"/>
<circle cx="55.3" cy="187.5" r="0.9" fill="#48e0ff"/>
<circle cx="54.2" cy="180.9" r="0.9" fill="#48e0ff"/>
<circle cx="58.8" cy="221.8" r="0.9" fill="#48e0ff"/>
<circle cx="56.9" cy="224.1" r="0.9" fill="#48e0ff"/>
<circle cx="58.2" cy="236.6" r="0.9" fill="#48e0ff"/>
<circle cx="69.0" cy="240.4" r="0.9" fill="#48e0ff"/>
<circle cx="80.9" cy="244.3" r="0.9" fill="#48e0ff"/>
<circle cx="92.4" cy="244.3" r="0.9" fill="#48e0ff"/>
<circle cx="94.4" cy="238.7" r="0.9" fill="#48e0ff"/>
<circle cx="88.2" cy="230.4" r="0.9" fill="#48e0ff"/>
<circle cx="81.5" cy="227.9" r="0.9" fill="#48e0ff"/>
<circle cx="79.0" cy="225.6" r="0.9" fill="#48e0ff"/>
<circle cx="76.1" cy="222.8" r="0.9" fill="#48e0ff"/>
<circle cx="86.1" cy="222.4" r="0.9" fill="#48e0ff"/>
<circle cx="55.3" cy="178.2" r="2.1" fill="#0098ff"/>
<circle cx="57.2" cy="177.3" r="2.1" fill="#0098ff"/>
<circle cx="56.4" cy="184.2" r="2.1" fill="#0098ff"/>
<circle cx="59.7" cy="188.0" r="2.1" fill="#0098ff"/>
<circle cx="61.8" cy="187.5" r="2.1" fill="#0098ff"/>
<circle cx="63.5" cy="186.9" r="2.1" fill="#0098ff"/>
<circle cx="46.0" cy="192.4" r="2.1" fill="#0098ff"/>
<circle cx="52.6" cy="191.3" r="2.1" fill="#0098ff"/>
<circle cx="53.1" cy="193.5" r="2.1" fill="#0098ff"/>
<circle cx="53.6" cy="195.7" r="2.1" fill="#0098ff"/>
<circle cx="55.8" cy="197.3" r="2.1" fill="#0098ff"/>
<circle cx="57.5" cy="198.6" r="2.1" fill="#0098ff"/>
<circle cx="60.7" cy="190.7" r="2.1" fill="#0098ff"/>
<circle cx="60.7" cy="192.9" r="2.1" fill="#0098ff"/>
<circle cx="66.5" cy="195.3" r="2.1" fill="#0098ff"/>
<circle cx="66.7" cy="197.8" r="2.1" fill="#0098ff"/>
<circle cx="47.6" cy="198.4" r="2.1" fill="#0098ff"/>
<circle cx="49.8" cy="198.4" r="2.1" fill="#0098ff"/>
<circle cx="51.8" cy="198.2" r="2.1" fill="#0098ff"/>
<circle cx="53.6" cy="202.8" r="2.1" fill="#0098ff"/>
<circle cx="59.1" cy="207.1" r="2.1" fill="#0098ff"/>
<circle cx="60.7" cy="208.4" r="2.1" fill="#0098ff"/>
<circle cx="77.7" cy="202.2" r="2.1" fill="#0098ff"/>
<circle cx="82.0" cy="201.7" r="2.1" fill="#0098ff"/>
<circle cx="82.0" cy="204.1" r="2.1" fill="#0098ff"/>
<circle cx="53.6" cy="212.0" r="2.1" fill="#0098ff"/>
<circle cx="68.9" cy="211.3" r="2.1" fill="#0098ff"/>
<circle cx="68.9" cy="213.7" r="2.1" fill="#0098ff"/>
<circle cx="58.6" cy="215.9" r="2.1" fill="#0098ff"/>
<circle cx="50.9" cy="218.0" r="2.1" fill="#0098ff"/>
<circle cx="56.4" cy="192.9" r="2.1" fill="#0098ff"/>
<circle cx="50.9" cy="195.1" r="2.1" fill="#0098ff"/>
<circle cx="58.8" cy="221.8" r="2.1" fill="#0098ff"/>
<circle cx="56.9" cy="224.1" r="2.1" fill="#0098ff"/>
<circle cx="92.4" cy="244.3" r="2.1" fill="#0098ff"/>
<circle cx="88.2" cy="230.4" r="2.1" fill="#0098ff"/>
<circle cx="81.5" cy="227.9" r="2.1" fill="#0098ff"/>
<circle cx="79.0" cy="225.6" r="2.1" fill="#0098ff"/>
<circle cx="55.3" cy="178.2" r="1.6" fill="#00dcff"/>
<circle cx="57.2" cy="177.3" r="1.6" fill="#00dcff"/>
<circle cx="56.4" cy="184.2" r="1.6" fill="#00dcff"/>
<circle cx="59.7" cy="188.0" r="1.6" fill="#00dcff"/>
<circle cx="61.8" cy="187.5" r="1.6" fill="#00dcff"/>
<circle cx="63.5" cy="186.9" r="1.6" fill="#00dcff"/>
<circle cx="46.0" cy="192.4" r="1.6" fill="#00dcff"/>
<circle cx="52.6" cy="191.3" r="1.6" fill="#00dcff"/>
<circle cx="53.1" cy="193.5" r="1.6" fill="#00dcff"/>
<circle cx="53.6" cy="195.7" r="1.6" fill="#00dcff"/>
<circle cx="55.8" cy="197.3" r="1.6" fill="#00dcff"/>
<circle cx="57.5" cy="198.6" r="1.6" fill="#00dcff"/>
<circle cx="60.7" cy="190.7" r="1.6" fill="#00dcff"/>
<circle cx="60.7" cy="192.9" r="1.6" fill="#00dcff"/>
<circle cx="66.5" cy="195.3" r="1.6" fill="#00dcff"/>
<circle cx="66.7" cy="197.8" r="1.6" fill="#00dcff"/>
<circle cx="47.6" cy="198.4" r="1.6" fill="#00dcff"/>
<circle cx="49.8" cy="198.4" r="1.6" fill="#00dcff"/>
<circle cx="51.8" cy="198.2" r="1.6" fill="#00dcff"/>
<circle cx="53.6" cy="202.8" r="1.6" fill="#00dcff"/>
<circle cx="59.1" cy="207.1" r="1.6" fill="#00dcff"/>
<circle cx="60.7" cy="208.4" r="1.6" fill="#00dcff"/>
<circle cx="77.7" cy="202.2" r="1.6" fill="#00dcff"/>
<circle cx="82.0" cy="201.7" r="1.6" fill="#00dcff"/>
<circle cx="82.0" cy="204.1" r="1.6" fill="#00dcff"/>
<circle cx="53.6" cy="212.0" r="1.6" fill="#00dcff"/>
<circle cx="68.9" cy="211.3" r="1.6" fill="#00dcff"/>
<circle cx="68.9" cy="213.7" r="1.6" fill="#00dcff"/>
<circle cx="58.6" cy="215.9" r="1.6" fill="#00dcff"/>
<circle cx="50.9" cy="218.0" r="1.6" fill="#00dcff"/>
<circle cx="56.4" cy="192.9" r="1.6" fill="#00dcff"/>
<circle cx="50.9" cy="195.1" r="1.6" fill="#00dcff"/>
<circle cx="58.8" cy="221.8" r="1.6" fill="#00dcff"/>
<circle cx="56.9" cy="224.1" r="1.6" fill="#00dcff"/>
<circle cx="92.4" cy="244.3" r="1.6" fill="#00dcff"/>
<circle cx="88.2" cy="230.4" r="1.6" fill="#00dcff"/>
<circle cx="81.5" cy="227.9" r="1.6" fill="#00dcff"/>
<circle cx="79.0" cy="225.6" r="1.6" fill="#00dcff"/>
<circle cx="55.3" cy="178.2" r="0.9" fill="#60ffd0"/>
<circle cx="57.2" cy="177.3" r="0.9" fill="#60ffd0"/>
<circle cx="56.4" cy="184.2" r="0.9" fill="#60ffd0"/>
<circle cx="59.7" cy="188.0" r="0.9" fill="#60ffd0"/>
<circle cx="61.8" cy="187.5" r="0.9" fill="#60ffd0"/>
<circle cx="63.5" cy="186.9" r="0.9" fill="#60ffd0"/>
<circle cx="46.0" cy="192.4" r="0.9" fill="#60ffd0"/>
<circle cx="52.6" cy="191.3" r="0.9" fill="#60ffd0"/>
<circle cx="53.1" cy="193.5" r="0.9" fill="#60ffd0"/>
<circle cx="53.6" cy="195.7" r="0.9" fill="#60ffd0"/>
<circle cx="55.8" cy="197.3" r="0.9" fill="#60ffd0"/>
<circle cx="57.5" cy="198.6" r="0.9" fill="#60ffd0"/>
<circle cx="60.7" cy="190.7" r="0.9" fill="#60ffd0"/>
<circle cx="60.7" cy="192.9" r="0.9" fill="#60ffd0"/>
<circle cx="66.5" cy="195.3" r="0.9" fill="#60ffd0"/>
<circle cx="66.7" cy="197.8" r="0.9" fill="#60ffd0"/>
<circle cx="47.6" cy="198.4" r="0.9" fill="#60ffd0"/>
<circle cx="49.8" cy="198.4" r="0.9" fill="#60ffd0"/>
<circle cx="51.8" cy="198.2" r="0.9" fill="#60ffd0"/>
<circle cx="53.6" cy="202.8" r="0.9" fill="#60ffd0"/>
<circle cx="59.1" cy="207.1" r="0.9" fill="#60ffd0"/>
<circle cx="60.7" cy="208.4" r="0.9" fill="#60ffd0"/>
<circle cx="77.7" cy="202.2" r="0.9" fill="#60ffd0"/>
<circle cx="82.0" cy="201.7" r="0.9" fill="#60ffd0"/>
<circle cx="82.0" cy="204.1" r="0.9" fill="#60ffd0"/>
<circle cx="53.6" cy="212.0" r="0.9" fill="#60ffd0"/>
<circle cx="68.9" cy="211.3" r="0.9" fill="#60ffd0"/>
<circle cx="68.9" cy="213.7" r="0.9" fill="#60ffd0"/>
<circle cx="58.6" cy="215.9" r="0.9" fill="#60ffd0"/>
<circle cx="50.9" cy="218.0" r="0.9" fill="#60ffd0"/>
<circle cx="56.4" cy="192.9" r="0.9" fill="#60ffd0"/>
<circle cx="50.9" cy="195.1" r="0.9" fill="#60ffd0"/>
<circle cx="58.8" cy="221.8" r="0.9" fill="#60ffd0"/>
<circle cx="56.9" cy="224.1" r="0.9" fill="#60ffd0"/>
<circle cx="92.4" cy="244.3" r="0.9" fill="#60ffd0"/>
<circle cx="88.2" cy="230.4" r="0.9" fill="#60ffd0"/>
<circle cx="81.5" cy="227.9" r="0.9" fill="#60ffd0"/>
<circle cx="79.0" cy="225.6" r="0.9" fill="#60ffd0"/>
<circle cx="56.4" cy="184.2" r="2.4" fill="#00d8ff"/>
<circle cx="59.7" cy="188.0" r="2.4" fill="#00d8ff"/>
<circle cx="61.8" cy="187.5" r="2.4" fill="#00d8ff"/>
<circle cx="63.5" cy="186.9" r="2.4" fill="#00d8ff"/>
<circle cx="46.0" cy="192.4" r="2.4" fill="#00d8ff"/>
<circle cx="52.6" cy="191.3" r="2.4" fill="#00d8ff"/>
<circle cx="53.1" cy="193.5" r="2.4" fill="#00d8ff"/>
<circle cx="53.6" cy="195.7" r="2.4" fill="#00d8ff"/>
<circle cx="55.8" cy="197.3" r="2.4" fill="#00d8ff"/>
<circle cx="57.5" cy="198.6" r="2.4" fill="#00d8ff"/>
<circle cx="60.7" cy="192.9" r="2.4" fill="#00d8ff"/>
<circle cx="66.5" cy="195.3" r="2.4" fill="#00d8ff"/>
<circle cx="66.7" cy="197.8" r="2.4" fill="#00d8ff"/>
<circle cx="49.8" cy="198.4" r="2.4" fill="#00d8ff"/>
<circle cx="53.6" cy="202.8" r="2.4" fill="#00d8ff"/>
<circle cx="59.1" cy="207.1" r="2.4" fill="#00d8ff"/>
<circle cx="60.7" cy="208.4" r="2.4" fill="#00d8ff"/>
<circle cx="82.0" cy="201.7" r="2.4" fill="#00d8ff"/>
<circle cx="82.0" cy="204.1" r="2.4" fill="#00d8ff"/>
<circle cx="56.4" cy="184.2" r="1.8" fill="#90ff70"/>
<circle cx="59.7" cy="188.0" r="1.8" fill="#90ff70"/>
<circle cx="61.8" cy="187.5" r="1.8" fill="#90ff70"/>
<circle cx="63.5" cy="186.9" r="1.8" fill="#90ff70"/>
<circle cx="46.0" cy="192.4" r="1.8" fill="#90ff70"/>
<circle cx="52.6" cy="191.3" r="1.8" fill="#90ff70"/>
<circle cx="53.1" cy="193.5" r="1.8" fill="#90ff70"/>
<circle cx="53.6" cy="195.7" r="1.8" fill="#90ff70"/>
<circle cx="55.8" cy="197.3" r="1.8" fill="#90ff70"/>
<circle cx="57.5" cy="198.6" r="1.8" fill="#90ff70"/>
<circle cx="60.7" cy="192.9" r="1.8" fill="#90ff70"/>
<circle cx="66.5" cy="195.3" r="1.8" fill="#90ff70"/>
<circle cx="66.7" cy="197.8" r="1.8" fill="#90ff70"/>
<circle cx="49.8" cy="198.4" r="1.8" fill="#90ff70"/>
<circle cx="53.6" cy="202.8" r="1.8" fill="#90ff70"/>
<circle cx="59.1" cy="207.1" r="1.8" fill="#90ff70"/>
<circle cx="60.7" cy="208.4" r="1.8" fill="#90ff70"/>
<circle cx="82.0" cy="201.7" r="1.8" fill="#90ff70"/>
<circle cx="82.0" cy="204.1" r="1.8" fill="#90ff70"/>
<circle cx="56.4" cy="184.2" r="1.2" fill="#ffe800"/>
<circle cx="59.7" cy="188.0" r="1.2" fill="#ffe800"/>
<circle cx="61.8" cy="187.5" r="1.2" fill="#ffe800"/>
<circle cx="63.5" cy="186.9" r="1.2" fill="#ffe800"/>
<circle cx="46.0" cy="192.4" r="1.2" fill="#ffe800"/>
<circle cx="52.6" cy="191.3" r="1.2" fill="#ffe800"/>
<circle cx="53.1" cy="193.5" r="1.2" fill="#ffe800"/>
<circle cx="53.6" cy="195.7" r="1.2" fill="#ffe800"/>
<circle cx="55.8" cy="197.3" r="1.2" fill="#ffe800"/>
<circle cx="57.5" cy="198.6" r="1.2" fill="#ffe800"/>
<circle cx="60.7" cy="192.9" r="1.2" fill="#ffe800"/>
<circle cx="66.5" cy="195.3" r="1.2" fill="#ffe800"/>
<circle cx="66.7" cy="197.8" r="1.2" fill="#ffe800"/>
<circle cx="49.8" cy="198.4" r="1.2" fill="#ffe800"/>
<circle cx="53.6" cy="202.8" r="1.2" fill="#ffe800"/>
<circle cx="59.1" cy="207.1" r="1.2" fill="#ffe800"/>
<circle cx="60.7" cy="208.4" r="1.2" fill="#ffe800"/>
<circle cx="82.0" cy="201.7" r="1.2" fill="#ffe800"/>
<circle cx="82.0" cy="204.1" r="1.2" fill="#ffe800"/>
<circle cx="59.7" cy="188.0" r="2.5" fill="#00e0ff"/>
<circle cx="52.6" cy="191.3" r="2.5" fill="#00e0ff"/>
<circle cx="53.1" cy="193.5" r="2.5" fill="#00e0ff"/>
<circle cx="53.6" cy="195.7" r="2.5" fill="#00e0ff"/>
<circle cx="59.7" cy="188.0" r="2.0" fill="#b0ff50"/>
<circle cx="52.6" cy="191.3" r="2.0" fill="#b0ff50"/>
<circle cx="53.1" cy="193.5" r="2.0" fill="#b0ff50"/>
<circle cx="53.6" cy="195.7" r="2.0" fill="#b0ff50"/>
<circle cx="59.7" cy="188.0" r="1.5" fill="#ffd000"/>
<circle cx="52.6" cy="191.3" r="1.5" fill="#ffd000"/>
<circle cx="53.1" cy="193.5" r="1.5" fill="#ffd000"/>
<circle cx="53.6" cy="195.7" r="1.5" fill="#ffd000"/>
<circle cx="59.7" cy="188.0" r="0.9" fill="#ff1000"/>
<circle cx="52.6" cy="191.3" r="0.9" fill="#ff1000"/>
<circle cx="53.1" cy="193.5" r="0.9" fill="#ff1000"/>
<circle cx="53.6" cy="195.7" r="0.9" fill="#ff1000"/>
</g></g>
<circle cx="74.5" cy="211.6" r="40.7" fill="none" stroke="#2a2a2a" stroke-width="1.15"/>
<text x="162.5" y="164.6" font-size="8.8" text-anchor="middle" fill="#000">ELS</text>
<clipPath id="cp2"><circle cx="162.5" cy="212" r="40.3"/></clipPath>
<circle cx="162.5" cy="212" r="40.3" fill="#999999"/>
<line x1="122.2" y1="212" x2="202.8" y2="212" stroke="#adadad" stroke-width="0.7"/>
<line x1="162.5" y1="171.7" x2="162.5" y2="252.3" stroke="#adadad" stroke-width="0.7"/>
<g clip-path="url(#cp2)"><g filter="url(#bl)">
<circle cx="150.7" cy="179.9" r="3.5" fill="#000098"/>
<circle cx="165.7" cy="176.3" r="3.5" fill="#000098"/>
<circle cx="136.3" cy="188.2" r="3.5" fill="#000098"/>
<circle cx="141.1" cy="191.1" r="3.5" fill="#000098"/>
<circle cx="134.3" cy="194.5" r="3.5" fill="#000098"/>
<circle cx="136.8" cy="198.7" r="3.5" fill="#000098"/>
<circle cx="147.8" cy="192.0" r="3.5" fill="#000098"/>
<circle cx="145.9" cy="194.9" r="3.5" fill="#000098"/>
<circle cx="152.2" cy="194.9" r="3.5" fill="#000098"/>
<circle cx="143.0" cy="202.2" r="3.5" fill="#000098"/>
<circle cx="143.9" cy="206.4" r="3.5" fill="#000098"/>
<circle cx="137.2" cy="208.3" r="3.5" fill="#000098"/>
<circle cx="135.3" cy="210.7" r="3.5" fill="#000098"/>
<circle cx="165.1" cy="186.8" r="3.5" fill="#000098"/>
<circle cx="169.5" cy="187.2" r="3.5" fill="#000098"/>
<circle cx="163.5" cy="192.0" r="3.5" fill="#000098"/>
<circle cx="177.6" cy="186.3" r="3.5" fill="#000098"/>
<circle cx="180.4" cy="185.7" r="3.5" fill="#000098"/>
<circle cx="184.9" cy="183.8" r="3.5" fill="#000098"/>
<circle cx="193.9" cy="193.6" r="3.5" fill="#000098"/>
<circle cx="189.5" cy="197.8" r="3.5" fill="#000098"/>
<circle cx="199.3" cy="205.9" r="3.5" fill="#000098"/>
<circle cx="159.3" cy="211.2" r="3.5" fill="#000098"/>
<circle cx="198.7" cy="216.0" r="3.5" fill="#000098"/>
<circle cx="194.9" cy="216.4" r="3.5" fill="#000098"/>
<circle cx="196.8" cy="224.1" r="3.5" fill="#000098"/>
<circle cx="189.1" cy="221.4" r="3.5" fill="#000098"/>
<circle cx="182.9" cy="222.8" r="3.5" fill="#000098"/>
<circle cx="194.9" cy="229.1" r="3.5" fill="#000098"/>
<circle cx="147.8" cy="219.5" r="3.5" fill="#000098"/>
<circle cx="150.3" cy="224.3" r="3.5" fill="#000098"/>
<circle cx="131.8" cy="223.7" r="3.5" fill="#000098"/>
<circle cx="170.8" cy="227.2" r="3.5" fill="#000098"/>
<circle cx="162.8" cy="230.8" r="3.5" fill="#000098"/>
<circle cx="134.3" cy="236.2" r="3.5" fill="#000098"/>
<circle cx="189.9" cy="231.2" r="3.5" fill="#000098"/>
<circle cx="190.2" cy="235.1" r="3.5" fill="#000098"/>
<circle cx="186.6" cy="236.8" r="3.5" fill="#000098"/>
<circle cx="153.2" cy="240.1" r="3.5" fill="#000098"/>
<circle cx="158.0" cy="240.6" r="3.5" fill="#000098"/>
<circle cx="143.0" cy="244.5" r="3.5" fill="#000098"/>
<circle cx="152.6" cy="248.3" r="3.5" fill="#000098"/>
<circle cx="164.1" cy="243.9" r="3.5" fill="#000098"/>
<circle cx="163.5" cy="248.7" r="3.5" fill="#000098"/>
<circle cx="165.1" cy="250.6" r="3.5" fill="#000098"/>
<circle cx="175.3" cy="241.6" r="3.5" fill="#000098"/>
<circle cx="172.8" cy="242.0" r="3.5" fill="#000098"/>
<circle cx="175.6" cy="245.8" r="3.5" fill="#000098"/>
<circle cx="182.4" cy="243.9" r="3.5" fill="#000098"/>
<circle cx="150.7" cy="179.9" r="3.0" fill="#0000d8"/>
<circle cx="165.7" cy="176.3" r="3.0" fill="#0000d8"/>
<circle cx="136.3" cy="188.2" r="3.0" fill="#0000d8"/>
<circle cx="141.1" cy="191.1" r="3.0" fill="#0000d8"/>
<circle cx="134.3" cy="194.5" r="3.0" fill="#0000d8"/>
<circle cx="136.8" cy="198.7" r="3.0" fill="#0000d8"/>
<circle cx="147.8" cy="192.0" r="3.0" fill="#0000d8"/>
<circle cx="145.9" cy="194.9" r="3.0" fill="#0000d8"/>
<circle cx="152.2" cy="194.9" r="3.0" fill="#0000d8"/>
<circle cx="143.0" cy="202.2" r="3.0" fill="#0000d8"/>
<circle cx="143.9" cy="206.4" r="3.0" fill="#0000d8"/>
<circle cx="137.2" cy="208.3" r="3.0" fill="#0000d8"/>
<circle cx="135.3" cy="210.7" r="3.0" fill="#0000d8"/>
<circle cx="165.1" cy="186.8" r="3.0" fill="#0000d8"/>
<circle cx="169.5" cy="187.2" r="3.0" fill="#0000d8"/>
<circle cx="163.5" cy="192.0" r="3.0" fill="#0000d8"/>
<circle cx="177.6" cy="186.3" r="3.0" fill="#0000d8"/>
<circle cx="180.4" cy="185.7" r="3.0" fill="#0000d8"/>
<circle cx="184.9" cy="183.8" r="3.0" fill="#0000d8"/>
<circle cx="193.9" cy="193.6" r="3.0" fill="#0000d8"/>
<circle cx="189.5" cy="197.8" r="3.0" fill="#0000d8"/>
<circle cx="199.3" cy="205.9" r="3.0" fill="#0000d8"/>
<circle cx="159.3" cy="211.2" r="3.0" fill="#0000d8"/>
<circle cx="198.7" cy="216.0" r="3.0" fill="#0000d8"/>
<circle cx="194.9" cy="216.4" r="3.0" fill="#0000d8"/>
<circle cx="196.8" cy="224.1" r="3.0" fill="#0000d8"/>
<circle cx="189.1" cy="221.4" r="3.0" fill="#0000d8"/>
<circle cx="182.9" cy="222.8" r="3.0" fill="#0000d8"/>
<circle cx="194.9" cy="229.1" r="3.0" fill="#0000d8"/>
<circle cx="147.8" cy="219.5" r="3.0" fill="#0000d8"/>
<circle cx="150.3" cy="224.3" r="3.0" fill="#0000d8"/>
<circle cx="131.8" cy="223.7" r="3.0" fill="#0000d8"/>
<circle cx="170.8" cy="227.2" r="3.0" fill="#0000d8"/>
<circle cx="162.8" cy="230.8" r="3.0" fill="#0000d8"/>
<circle cx="134.3" cy="236.2" r="3.0" fill="#0000d8"/>
<circle cx="189.9" cy="231.2" r="3.0" fill="#0000d8"/>
<circle cx="190.2" cy="235.1" r="3.0" fill="#0000d8"/>
<circle cx="186.6" cy="236.8" r="3.0" fill="#0000d8"/>
<circle cx="153.2" cy="240.1" r="3.0" fill="#0000d8"/>
<circle cx="158.0" cy="240.6" r="3.0" fill="#0000d8"/>
<circle cx="143.0" cy="244.5" r="3.0" fill="#0000d8"/>
<circle cx="152.6" cy="248.3" r="3.0" fill="#0000d8"/>
<circle cx="164.1" cy="243.9" r="3.0" fill="#0000d8"/>
<circle cx="163.5" cy="248.7" r="3.0" fill="#0000d8"/>
<circle cx="165.1" cy="250.6" r="3.0" fill="#0000d8"/>
<circle cx="175.3" cy="241.6" r="3.0" fill="#0000d8"/>
<circle cx="172.8" cy="242.0" r="3.0" fill="#0000d8"/>
<circle cx="175.6" cy="245.8" r="3.0" fill="#0000d8"/>
<circle cx="182.4" cy="243.9" r="3.0" fill="#0000d8"/>
<circle cx="150.7" cy="179.9" r="2.4" fill="#0010ff"/>
<circle cx="165.7" cy="176.3" r="2.4" fill="#0010ff"/>
<circle cx="136.3" cy="188.2" r="2.4" fill="#0010ff"/>
<circle cx="141.1" cy="191.1" r="2.4" fill="#0010ff"/>
<circle cx="134.3" cy="194.5" r="2.4" fill="#0010ff"/>
<circle cx="136.8" cy="198.7" r="2.4" fill="#0010ff"/>
<circle cx="147.8" cy="192.0" r="2.4" fill="#0010ff"/>
<circle cx="145.9" cy="194.9" r="2.4" fill="#0010ff"/>
<circle cx="152.2" cy="194.9" r="2.4" fill="#0010ff"/>
<circle cx="143.0" cy="202.2" r="2.4" fill="#0010ff"/>
<circle cx="143.9" cy="206.4" r="2.4" fill="#0010ff"/>
<circle cx="137.2" cy="208.3" r="2.4" fill="#0010ff"/>
<circle cx="135.3" cy="210.7" r="2.4" fill="#0010ff"/>
<circle cx="165.1" cy="186.8" r="2.4" fill="#0010ff"/>
<circle cx="169.5" cy="187.2" r="2.4" fill="#0010ff"/>
<circle cx="163.5" cy="192.0" r="2.4" fill="#0010ff"/>
<circle cx="177.6" cy="186.3" r="2.4" fill="#0010ff"/>
<circle cx="180.4" cy="185.7" r="2.4" fill="#0010ff"/>
<circle cx="184.9" cy="183.8" r="2.4" fill="#0010ff"/>
<circle cx="193.9" cy="193.6" r="2.4" fill="#0010ff"/>
<circle cx="189.5" cy="197.8" r="2.4" fill="#0010ff"/>
<circle cx="199.3" cy="205.9" r="2.4" fill="#0010ff"/>
<circle cx="159.3" cy="211.2" r="2.4" fill="#0010ff"/>
<circle cx="198.7" cy="216.0" r="2.4" fill="#0010ff"/>
<circle cx="194.9" cy="216.4" r="2.4" fill="#0010ff"/>
<circle cx="196.8" cy="224.1" r="2.4" fill="#0010ff"/>
<circle cx="189.1" cy="221.4" r="2.4" fill="#0010ff"/>
<circle cx="182.9" cy="222.8" r="2.4" fill="#0010ff"/>
<circle cx="194.9" cy="229.1" r="2.4" fill="#0010ff"/>
<circle cx="147.8" cy="219.5" r="2.4" fill="#0010ff"/>
<circle cx="150.3" cy="224.3" r="2.4" fill="#0010ff"/>
<circle cx="131.8" cy="223.7" r="2.4" fill="#0010ff"/>
<circle cx="170.8" cy="227.2" r="2.4" fill="#0010ff"/>
<circle cx="162.8" cy="230.8" r="2.4" fill="#0010ff"/>
<circle cx="134.3" cy="236.2" r="2.4" fill="#0010ff"/>
<circle cx="189.9" cy="231.2" r="2.4" fill="#0010ff"/>
<circle cx="190.2" cy="235.1" r="2.4" fill="#0010ff"/>
<circle cx="186.6" cy="236.8" r="2.4" fill="#0010ff"/>
<circle cx="153.2" cy="240.1" r="2.4" fill="#0010ff"/>
<circle cx="158.0" cy="240.6" r="2.4" fill="#0010ff"/>
<circle cx="143.0" cy="244.5" r="2.4" fill="#0010ff"/>
<circle cx="152.6" cy="248.3" r="2.4" fill="#0010ff"/>
<circle cx="164.1" cy="243.9" r="2.4" fill="#0010ff"/>
<circle cx="163.5" cy="248.7" r="2.4" fill="#0010ff"/>
<circle cx="165.1" cy="250.6" r="2.4" fill="#0010ff"/>
<circle cx="175.3" cy="241.6" r="2.4" fill="#0010ff"/>
<circle cx="172.8" cy="242.0" r="2.4" fill="#0010ff"/>
<circle cx="175.6" cy="245.8" r="2.4" fill="#0010ff"/>
<circle cx="182.4" cy="243.9" r="2.4" fill="#0010ff"/>
<circle cx="150.7" cy="179.9" r="1.8" fill="#0050ff"/>
<circle cx="165.7" cy="176.3" r="1.8" fill="#0050ff"/>
<circle cx="136.3" cy="188.2" r="1.8" fill="#0050ff"/>
<circle cx="141.1" cy="191.1" r="1.8" fill="#0050ff"/>
<circle cx="134.3" cy="194.5" r="1.8" fill="#0050ff"/>
<circle cx="136.8" cy="198.7" r="1.8" fill="#0050ff"/>
<circle cx="147.8" cy="192.0" r="1.8" fill="#0050ff"/>
<circle cx="145.9" cy="194.9" r="1.8" fill="#0050ff"/>
<circle cx="152.2" cy="194.9" r="1.8" fill="#0050ff"/>
<circle cx="143.0" cy="202.2" r="1.8" fill="#0050ff"/>
<circle cx="143.9" cy="206.4" r="1.8" fill="#0050ff"/>
<circle cx="137.2" cy="208.3" r="1.8" fill="#0050ff"/>
<circle cx="135.3" cy="210.7" r="1.8" fill="#0050ff"/>
<circle cx="165.1" cy="186.8" r="1.8" fill="#0050ff"/>
<circle cx="169.5" cy="187.2" r="1.8" fill="#0050ff"/>
<circle cx="163.5" cy="192.0" r="1.8" fill="#0050ff"/>
<circle cx="177.6" cy="186.3" r="1.8" fill="#0050ff"/>
<circle cx="180.4" cy="185.7" r="1.8" fill="#0050ff"/>
<circle cx="184.9" cy="183.8" r="1.8" fill="#0050ff"/>
<circle cx="193.9" cy="193.6" r="1.8" fill="#0050ff"/>
<circle cx="189.5" cy="197.8" r="1.8" fill="#0050ff"/>
<circle cx="199.3" cy="205.9" r="1.8" fill="#0050ff"/>
<circle cx="159.3" cy="211.2" r="1.8" fill="#0050ff"/>
<circle cx="198.7" cy="216.0" r="1.8" fill="#0050ff"/>
<circle cx="194.9" cy="216.4" r="1.8" fill="#0050ff"/>
<circle cx="196.8" cy="224.1" r="1.8" fill="#0050ff"/>
<circle cx="189.1" cy="221.4" r="1.8" fill="#0050ff"/>
<circle cx="182.9" cy="222.8" r="1.8" fill="#0050ff"/>
<circle cx="194.9" cy="229.1" r="1.8" fill="#0050ff"/>
<circle cx="147.8" cy="219.5" r="1.8" fill="#0050ff"/>
<circle cx="150.3" cy="224.3" r="1.8" fill="#0050ff"/>
<circle cx="131.8" cy="223.7" r="1.8" fill="#0050ff"/>
<circle cx="170.8" cy="227.2" r="1.8" fill="#0050ff"/>
<circle cx="162.8" cy="230.8" r="1.8" fill="#0050ff"/>
<circle cx="134.3" cy="236.2" r="1.8" fill="#0050ff"/>
<circle cx="189.9" cy="231.2" r="1.8" fill="#0050ff"/>
<circle cx="190.2" cy="235.1" r="1.8" fill="#0050ff"/>
<circle cx="186.6" cy="236.8" r="1.8" fill="#0050ff"/>
<circle cx="153.2" cy="240.1" r="1.8" fill="#0050ff"/>
<circle cx="158.0" cy="240.6" r="1.8" fill="#0050ff"/>
<circle cx="143.0" cy="244.5" r="1.8" fill="#0050ff"/>
<circle cx="152.6" cy="248.3" r="1.8" fill="#0050ff"/>
<circle cx="164.1" cy="243.9" r="1.8" fill="#0050ff"/>
<circle cx="163.5" cy="248.7" r="1.8" fill="#0050ff"/>
<circle cx="165.1" cy="250.6" r="1.8" fill="#0050ff"/>
<circle cx="175.3" cy="241.6" r="1.8" fill="#0050ff"/>
<circle cx="172.8" cy="242.0" r="1.8" fill="#0050ff"/>
<circle cx="175.6" cy="245.8" r="1.8" fill="#0050ff"/>
<circle cx="182.4" cy="243.9" r="1.8" fill="#0050ff"/>
<circle cx="150.7" cy="179.9" r="1.25" fill="#28a8ff"/>
<circle cx="165.7" cy="176.3" r="1.25" fill="#28a8ff"/>
<circle cx="136.3" cy="188.2" r="1.25" fill="#28a8ff"/>
<circle cx="141.1" cy="191.1" r="1.25" fill="#28a8ff"/>
<circle cx="134.3" cy="194.5" r="1.25" fill="#28a8ff"/>
<circle cx="136.8" cy="198.7" r="1.25" fill="#28a8ff"/>
<circle cx="147.8" cy="192.0" r="1.25" fill="#28a8ff"/>
<circle cx="145.9" cy="194.9" r="1.25" fill="#28a8ff"/>
<circle cx="152.2" cy="194.9" r="1.25" fill="#28a8ff"/>
<circle cx="143.0" cy="202.2" r="1.25" fill="#28a8ff"/>
<circle cx="143.9" cy="206.4" r="1.25" fill="#28a8ff"/>
<circle cx="137.2" cy="208.3" r="1.25" fill="#28a8ff"/>
<circle cx="135.3" cy="210.7" r="1.25" fill="#28a8ff"/>
<circle cx="165.1" cy="186.8" r="1.25" fill="#28a8ff"/>
<circle cx="169.5" cy="187.2" r="1.25" fill="#28a8ff"/>
<circle cx="163.5" cy="192.0" r="1.25" fill="#28a8ff"/>
<circle cx="177.6" cy="186.3" r="1.25" fill="#28a8ff"/>
<circle cx="180.4" cy="185.7" r="1.25" fill="#28a8ff"/>
<circle cx="184.9" cy="183.8" r="1.25" fill="#28a8ff"/>
<circle cx="193.9" cy="193.6" r="1.25" fill="#28a8ff"/>
<circle cx="189.5" cy="197.8" r="1.25" fill="#28a8ff"/>
<circle cx="199.3" cy="205.9" r="1.25" fill="#28a8ff"/>
<circle cx="159.3" cy="211.2" r="1.25" fill="#28a8ff"/>
<circle cx="198.7" cy="216.0" r="1.25" fill="#28a8ff"/>
<circle cx="194.9" cy="216.4" r="1.25" fill="#28a8ff"/>
<circle cx="196.8" cy="224.1" r="1.25" fill="#28a8ff"/>
<circle cx="189.1" cy="221.4" r="1.25" fill="#28a8ff"/>
<circle cx="182.9" cy="222.8" r="1.25" fill="#28a8ff"/>
<circle cx="194.9" cy="229.1" r="1.25" fill="#28a8ff"/>
<circle cx="147.8" cy="219.5" r="1.25" fill="#28a8ff"/>
<circle cx="150.3" cy="224.3" r="1.25" fill="#28a8ff"/>
<circle cx="131.8" cy="223.7" r="1.25" fill="#28a8ff"/>
<circle cx="170.8" cy="227.2" r="1.25" fill="#28a8ff"/>
<circle cx="162.8" cy="230.8" r="1.25" fill="#28a8ff"/>
<circle cx="134.3" cy="236.2" r="1.25" fill="#28a8ff"/>
<circle cx="189.9" cy="231.2" r="1.25" fill="#28a8ff"/>
<circle cx="190.2" cy="235.1" r="1.25" fill="#28a8ff"/>
<circle cx="186.6" cy="236.8" r="1.25" fill="#28a8ff"/>
<circle cx="153.2" cy="240.1" r="1.25" fill="#28a8ff"/>
<circle cx="158.0" cy="240.6" r="1.25" fill="#28a8ff"/>
<circle cx="143.0" cy="244.5" r="1.25" fill="#28a8ff"/>
<circle cx="152.6" cy="248.3" r="1.25" fill="#28a8ff"/>
<circle cx="164.1" cy="243.9" r="1.25" fill="#28a8ff"/>
<circle cx="163.5" cy="248.7" r="1.25" fill="#28a8ff"/>
<circle cx="165.1" cy="250.6" r="1.25" fill="#28a8ff"/>
<circle cx="175.3" cy="241.6" r="1.25" fill="#28a8ff"/>
<circle cx="172.8" cy="242.0" r="1.25" fill="#28a8ff"/>
<circle cx="175.6" cy="245.8" r="1.25" fill="#28a8ff"/>
<circle cx="182.4" cy="243.9" r="1.25" fill="#28a8ff"/>
<circle cx="147.8" cy="192.0" r="1.5" fill="#18a8ff"/>
<circle cx="137.2" cy="208.3" r="1.5" fill="#18a8ff"/>
<circle cx="135.3" cy="210.7" r="1.5" fill="#18a8ff"/>
<circle cx="165.1" cy="186.8" r="1.5" fill="#18a8ff"/>
<circle cx="163.5" cy="192.0" r="1.5" fill="#18a8ff"/>
<circle cx="177.6" cy="186.3" r="1.5" fill="#18a8ff"/>
<circle cx="180.4" cy="185.7" r="1.5" fill="#18a8ff"/>
<circle cx="198.7" cy="216.0" r="1.5" fill="#18a8ff"/>
<circle cx="194.9" cy="216.4" r="1.5" fill="#18a8ff"/>
<circle cx="196.8" cy="224.1" r="1.5" fill="#18a8ff"/>
<circle cx="147.8" cy="219.5" r="1.5" fill="#18a8ff"/>
<circle cx="150.3" cy="224.3" r="1.5" fill="#18a8ff"/>
<circle cx="189.9" cy="231.2" r="1.5" fill="#18a8ff"/>
<circle cx="190.2" cy="235.1" r="1.5" fill="#18a8ff"/>
<circle cx="186.6" cy="236.8" r="1.5" fill="#18a8ff"/>
<circle cx="163.5" cy="248.7" r="1.5" fill="#18a8ff"/>
<circle cx="165.1" cy="250.6" r="1.5" fill="#18a8ff"/>
<circle cx="175.3" cy="241.6" r="1.5" fill="#18a8ff"/>
<circle cx="172.8" cy="242.0" r="1.5" fill="#18a8ff"/>
<circle cx="175.6" cy="245.8" r="1.5" fill="#18a8ff"/>
<circle cx="147.8" cy="192.0" r="0.9" fill="#48e0ff"/>
<circle cx="137.2" cy="208.3" r="0.9" fill="#48e0ff"/>
<circle cx="135.3" cy="210.7" r="0.9" fill="#48e0ff"/>
<circle cx="165.1" cy="186.8" r="0.9" fill="#48e0ff"/>
<circle cx="163.5" cy="192.0" r="0.9" fill="#48e0ff"/>
<circle cx="177.6" cy="186.3" r="0.9" fill="#48e0ff"/>
<circle cx="180.4" cy="185.7" r="0.9" fill="#48e0ff"/>
<circle cx="198.7" cy="216.0" r="0.9" fill="#48e0ff"/>
<circle cx="194.9" cy="216.4" r="0.9" fill="#48e0ff"/>
<circle cx="196.8" cy="224.1" r="0.9" fill="#48e0ff"/>
<circle cx="147.8" cy="219.5" r="0.9" fill="#48e0ff"/>
<circle cx="150.3" cy="224.3" r="0.9" fill="#48e0ff"/>
<circle cx="189.9" cy="231.2" r="0.9" fill="#48e0ff"/>
<circle cx="190.2" cy="235.1" r="0.9" fill="#48e0ff"/>
<circle cx="186.6" cy="236.8" r="0.9" fill="#48e0ff"/>
<circle cx="163.5" cy="248.7" r="0.9" fill="#48e0ff"/>
<circle cx="165.1" cy="250.6" r="0.9" fill="#48e0ff"/>
<circle cx="175.3" cy="241.6" r="0.9" fill="#48e0ff"/>
<circle cx="172.8" cy="242.0" r="0.9" fill="#48e0ff"/>
<circle cx="175.6" cy="245.8" r="0.9" fill="#48e0ff"/>
<circle cx="137.2" cy="208.3" r="2.1" fill="#0098ff"/>
<circle cx="135.3" cy="210.7" r="2.1" fill="#0098ff"/>
<circle cx="163.5" cy="192.0" r="2.1" fill="#0098ff"/>
<circle cx="177.6" cy="186.3" r="2.1" fill="#0098ff"/>
<circle cx="180.4" cy="185.7" r="2.1" fill="#0098ff"/>
<circle cx="198.7" cy="216.0" r="2.1" fill="#0098ff"/>
<circle cx="194.9" cy="216.4" r="2.1" fill="#0098ff"/>
<circle cx="196.8" cy="224.1" r="2.1" fill="#0098ff"/>
<circle cx="150.3" cy="224.3" r="2.1" fill="#0098ff"/>
<circle cx="190.2" cy="235.1" r="2.1" fill="#0098ff"/>
<circle cx="186.6" cy="236.8" r="2.1" fill="#0098ff"/>
<circle cx="163.5" cy="248.7" r="2.1" fill="#0098ff"/>
<circle cx="165.1" cy="250.6" r="2.1" fill="#0098ff"/>
<circle cx="175.3" cy="241.6" r="2.1" fill="#0098ff"/>
<circle cx="172.8" cy="242.0" r="2.1" fill="#0098ff"/>
<circle cx="175.6" cy="245.8" r="2.1" fill="#0098ff"/>
<circle cx="137.2" cy="208.3" r="1.6" fill="#00dcff"/>
<circle cx="135.3" cy="210.7" r="1.6" fill="#00dcff"/>
<circle cx="163.5" cy="192.0" r="1.6" fill="#00dcff"/>
<circle cx="177.6" cy="186.3" r="1.6" fill="#00dcff"/>
<circle cx="180.4" cy="185.7" r="1.6" fill="#00dcff"/>
<circle cx="198.7" cy="216.0" r="1.6" fill="#00dcff"/>
<circle cx="194.9" cy="216.4" r="1.6" fill="#00dcff"/>
<circle cx="196.8" cy="224.1" r="1.6" fill="#00dcff"/>
<circle cx="150.3" cy="224.3" r="1.6" fill="#00dcff"/>
<circle cx="190.2" cy="235.1" r="1.6" fill="#00dcff"/>
<circle cx="186.6" cy="236.8" r="1.6" fill="#00dcff"/>
<circle cx="163.5" cy="248.7" r="1.6" fill="#00dcff"/>
<circle cx="165.1" cy="250.6" r="1.6" fill="#00dcff"/>
<circle cx="175.3" cy="241.6" r="1.6" fill="#00dcff"/>
<circle cx="172.8" cy="242.0" r="1.6" fill="#00dcff"/>
<circle cx="175.6" cy="245.8" r="1.6" fill="#00dcff"/>
<circle cx="137.2" cy="208.3" r="0.9" fill="#60ffd0"/>
<circle cx="135.3" cy="210.7" r="0.9" fill="#60ffd0"/>
<circle cx="163.5" cy="192.0" r="0.9" fill="#60ffd0"/>
<circle cx="177.6" cy="186.3" r="0.9" fill="#60ffd0"/>
<circle cx="180.4" cy="185.7" r="0.9" fill="#60ffd0"/>
<circle cx="198.7" cy="216.0" r="0.9" fill="#60ffd0"/>
<circle cx="194.9" cy="216.4" r="0.9" fill="#60ffd0"/>
<circle cx="196.8" cy="224.1" r="0.9" fill="#60ffd0"/>
<circle cx="150.3" cy="224.3" r="0.9" fill="#60ffd0"/>
<circle cx="190.2" cy="235.1" r="0.9" fill="#60ffd0"/>
<circle cx="186.6" cy="236.8" r="0.9" fill="#60ffd0"/>
<circle cx="163.5" cy="248.7" r="0.9" fill="#60ffd0"/>
<circle cx="165.1" cy="250.6" r="0.9" fill="#60ffd0"/>
<circle cx="175.3" cy="241.6" r="0.9" fill="#60ffd0"/>
<circle cx="172.8" cy="242.0" r="0.9" fill="#60ffd0"/>
<circle cx="175.6" cy="245.8" r="0.9" fill="#60ffd0"/>
<circle cx="198.7" cy="216.0" r="2.4" fill="#00d8ff"/>
<circle cx="196.8" cy="224.1" r="2.4" fill="#00d8ff"/>
<circle cx="190.2" cy="235.1" r="2.4" fill="#00d8ff"/>
<circle cx="175.3" cy="241.6" r="2.4" fill="#00d8ff"/>
<circle cx="198.7" cy="216.0" r="1.8" fill="#90ff70"/>
<circle cx="196.8" cy="224.1" r="1.8" fill="#90ff70"/>
<circle cx="190.2" cy="235.1" r="1.8" fill="#90ff70"/>
<circle cx="175.3" cy="241.6" r="1.8" fill="#90ff70"/>
<circle cx="198.7" cy="216.0" r="1.2" fill="#ffe800"/>
<circle cx="196.8" cy="224.1" r="1.2" fill="#ffe800"/>
<circle cx="190.2" cy="235.1" r="1.2" fill="#ffe800"/>
<circle cx="175.3" cy="241.6" r="1.2" fill="#ffe800"/>
<circle cx="198.7" cy="216.0" r="2.5" fill="#00e0ff"/>
<circle cx="196.8" cy="224.1" r="2.5" fill="#00e0ff"/>
<circle cx="198.7" cy="216.0" r="2.0" fill="#b0ff50"/>
<circle cx="196.8" cy="224.1" r="2.0" fill="#b0ff50"/>
<circle cx="198.7" cy="216.0" r="1.5" fill="#ffd000"/>
<circle cx="196.8" cy="224.1" r="1.5" fill="#ffd000"/>
<circle cx="198.7" cy="216.0" r="0.9" fill="#ff1000"/>
<circle cx="196.8" cy="224.1" r="0.9" fill="#ff1000"/>
</g></g>
<circle cx="162.5" cy="212" r="40.3" fill="none" stroke="#2a2a2a" stroke-width="1.15"/>
<text x="250.8" y="164.6" font-size="8.8" text-anchor="middle" fill="#000">Novel ELS</text>
<clipPath id="cp3"><circle cx="250.8" cy="212" r="40.2"/></clipPath>
<circle cx="250.8" cy="212" r="40.2" fill="#999999"/>
<line x1="210.60000000000002" y1="212" x2="291.0" y2="212" stroke="#adadad" stroke-width="0.7"/>
<line x1="250.8" y1="171.8" x2="250.8" y2="252.2" stroke="#adadad" stroke-width="0.7"/>
<circle cx="231.0174672489083" cy="190.67248908296943" r="1.5" fill="none" stroke="#b4b4b4" stroke-width="0.6"/>
<g clip-path="url(#cp3)"><g filter="url(#bl)">
<circle cx="242.0" cy="186.8" r="3.5" fill="#000098"/>
<circle cx="253.7" cy="190.7" r="3.5" fill="#000098"/>
<circle cx="232.9" cy="200.3" r="3.5" fill="#000098"/>
<circle cx="268.5" cy="203.0" r="3.5" fill="#000098"/>
<circle cx="273.3" cy="210.7" r="3.5" fill="#000098"/>
<circle cx="218.9" cy="212.6" r="3.5" fill="#000098"/>
<circle cx="212.8" cy="215.1" r="3.5" fill="#000098"/>
<circle cx="223.9" cy="216.0" r="3.5" fill="#000098"/>
<circle cx="230.6" cy="214.7" r="3.5" fill="#000098"/>
<circle cx="245.0" cy="215.1" r="3.5" fill="#000098"/>
<circle cx="257.3" cy="212.6" r="3.5" fill="#000098"/>
<circle cx="279.6" cy="214.7" r="3.5" fill="#000098"/>
<circle cx="285.2" cy="213.7" r="3.5" fill="#000098"/>
<circle cx="288.1" cy="219.5" r="3.5" fill="#000098"/>
<circle cx="216.6" cy="219.9" r="3.5" fill="#000098"/>
<circle cx="236.8" cy="219.5" r="3.5" fill="#000098"/>
<circle cx="222.8" cy="224.1" r="3.5" fill="#000098"/>
<circle cx="237.7" cy="225.3" r="3.5" fill="#000098"/>
<circle cx="239.7" cy="227.9" r="3.5" fill="#000098"/>
<circle cx="268.9" cy="218.9" r="3.5" fill="#000098"/>
<circle cx="269.4" cy="222.4" r="3.5" fill="#000098"/>
<circle cx="278.1" cy="222.8" r="3.5" fill="#000098"/>
<circle cx="282.9" cy="222.8" r="3.5" fill="#000098"/>
<circle cx="254.1" cy="225.6" r="3.5" fill="#000098"/>
<circle cx="253.7" cy="229.9" r="3.5" fill="#000098"/>
<circle cx="261.2" cy="227.2" r="3.5" fill="#000098"/>
<circle cx="219.5" cy="232.9" r="3.5" fill="#000098"/>
<circle cx="226.2" cy="231.8" r="3.5" fill="#000098"/>
<circle cx="231.6" cy="232.9" r="3.5" fill="#000098"/>
<circle cx="246.4" cy="231.4" r="3.5" fill="#000098"/>
<circle cx="241.6" cy="232.4" r="3.5" fill="#000098"/>
<circle cx="238.7" cy="235.2" r="3.5" fill="#000098"/>
<circle cx="242.5" cy="238.1" r="3.5" fill="#000098"/>
<circle cx="223.3" cy="236.2" r="3.5" fill="#000098"/>
<circle cx="228.5" cy="240.1" r="3.5" fill="#000098"/>
<circle cx="233.9" cy="243.9" r="3.5" fill="#000098"/>
<circle cx="240.6" cy="245.8" r="3.5" fill="#000098"/>
<circle cx="246.8" cy="246.2" r="3.5" fill="#000098"/>
<circle cx="244.5" cy="248.7" r="3.5" fill="#000098"/>
<circle cx="253.1" cy="245.8" r="3.5" fill="#000098"/>
<circle cx="254.1" cy="247.7" r="3.5" fill="#000098"/>
<circle cx="257.9" cy="245.8" r="3.5" fill="#000098"/>
<circle cx="262.7" cy="245.8" r="3.5" fill="#000098"/>
<circle cx="268.1" cy="245.8" r="3.5" fill="#000098"/>
<circle cx="257.3" cy="236.8" r="3.5" fill="#000098"/>
<circle cx="263.7" cy="238.7" r="3.5" fill="#000098"/>
<circle cx="267.5" cy="237.2" r="3.5" fill="#000098"/>
<circle cx="273.9" cy="238.1" r="3.5" fill="#000098"/>
<circle cx="277.1" cy="235.2" r="3.5" fill="#000098"/>
<circle cx="281.4" cy="232.4" r="3.5" fill="#000098"/>
<circle cx="242.0" cy="186.8" r="3.0" fill="#0000d8"/>
<circle cx="253.7" cy="190.7" r="3.0" fill="#0000d8"/>
<circle cx="232.9" cy="200.3" r="3.0" fill="#0000d8"/>
<circle cx="268.5" cy="203.0" r="3.0" fill="#0000d8"/>
<circle cx="273.3" cy="210.7" r="3.0" fill="#0000d8"/>
<circle cx="218.9" cy="212.6" r="3.0" fill="#0000d8"/>
<circle cx="212.8" cy="215.1" r="3.0" fill="#0000d8"/>
<circle cx="223.9" cy="216.0" r="3.0" fill="#0000d8"/>
<circle cx="230.6" cy="214.7" r="3.0" fill="#0000d8"/>
<circle cx="245.0" cy="215.1" r="3.0" fill="#0000d8"/>
<circle cx="257.3" cy="212.6" r="3.0" fill="#0000d8"/>
<circle cx="279.6" cy="214.7" r="3.0" fill="#0000d8"/>
<circle cx="285.2" cy="213.7" r="3.0" fill="#0000d8"/>
<circle cx="288.1" cy="219.5" r="3.0" fill="#0000d8"/>
<circle cx="216.6" cy="219.9" r="3.0" fill="#0000d8"/>
<circle cx="236.8" cy="219.5" r="3.0" fill="#0000d8"/>
<circle cx="222.8" cy="224.1" r="3.0" fill="#0000d8"/>
<circle cx="237.7" cy="225.3" r="3.0" fill="#0000d8"/>
<circle cx="239.7" cy="227.9" r="3.0" fill="#0000d8"/>
<circle cx="268.9" cy="218.9" r="3.0" fill="#0000d8"/>
<circle cx="269.4" cy="222.4" r="3.0" fill="#0000d8"/>
<circle cx="278.1" cy="222.8" r="3.0" fill="#0000d8"/>
<circle cx="282.9" cy="222.8" r="3.0" fill="#0000d8"/>
<circle cx="254.1" cy="225.6" r="3.0" fill="#0000d8"/>
<circle cx="253.7" cy="229.9" r="3.0" fill="#0000d8"/>
<circle cx="261.2" cy="227.2" r="3.0" fill="#0000d8"/>
<circle cx="219.5" cy="232.9" r="3.0" fill="#0000d8"/>
<circle cx="226.2" cy="231.8" r="3.0" fill="#0000d8"/>
<circle cx="231.6" cy="232.9" r="3.0" fill="#0000d8"/>
<circle cx="246.4" cy="231.4" r="3.0" fill="#0000d8"/>
<circle cx="241.6" cy="232.4" r="3.0" fill="#0000d8"/>
<circle cx="238.7" cy="235.2" r="3.0" fill="#0000d8"/>
<circle cx="242.5" cy="238.1" r="3.0" fill="#0000d8"/>
<circle cx="223.3" cy="236.2" r="3.0" fill="#0000d8"/>
<circle cx="228.5" cy="240.1" r="3.0" fill="#0000d8"/>
<circle cx="233.9" cy="243.9" r="3.0" fill="#0000d8"/>
<circle cx="240.6" cy="245.8" r="3.0" fill="#0000d8"/>
<circle cx="246.8" cy="246.2" r="3.0" fill="#0000d8"/>
<circle cx="244.5" cy="248.7" r="3.0" fill="#0000d8"/>
<circle cx="253.1" cy="245.8" r="3.0" fill="#0000d8"/>
<circle cx="254.1" cy="247.7" r="3.0" fill="#0000d8"/>
<circle cx="257.9" cy="245.8" r="3.0" fill="#0000d8"/>
<circle cx="262.7" cy="245.8" r="3.0" fill="#0000d8"/>
<circle cx="268.1" cy="245.8" r="3.0" fill="#0000d8"/>
<circle cx="257.3" cy="236.8" r="3.0" fill="#0000d8"/>
<circle cx="263.7" cy="238.7" r="3.0" fill="#0000d8"/>
<circle cx="267.5" cy="237.2" r="3.0" fill="#0000d8"/>
<circle cx="273.9" cy="238.1" r="3.0" fill="#0000d8"/>
<circle cx="277.1" cy="235.2" r="3.0" fill="#0000d8"/>
<circle cx="281.4" cy="232.4" r="3.0" fill="#0000d8"/>
<circle cx="242.0" cy="186.8" r="2.4" fill="#0010ff"/>
<circle cx="253.7" cy="190.7" r="2.4" fill="#0010ff"/>
<circle cx="232.9" cy="200.3" r="2.4" fill="#0010ff"/>
<circle cx="268.5" cy="203.0" r="2.4" fill="#0010ff"/>
<circle cx="273.3" cy="210.7" r="2.4" fill="#0010ff"/>
<circle cx="218.9" cy="212.6" r="2.4" fill="#0010ff"/>
<circle cx="212.8" cy="215.1" r="2.4" fill="#0010ff"/>
<circle cx="223.9" cy="216.0" r="2.4" fill="#0010ff"/>
<circle cx="230.6" cy="214.7" r="2.4" fill="#0010ff"/>
<circle cx="245.0" cy="215.1" r="2.4" fill="#0010ff"/>
<circle cx="257.3" cy="212.6" r="2.4" fill="#0010ff"/>
<circle cx="279.6" cy="214.7" r="2.4" fill="#0010ff"/>
<circle cx="285.2" cy="213.7" r="2.4" fill="#0010ff"/>
<circle cx="288.1" cy="219.5" r="2.4" fill="#0010ff"/>
<circle cx="216.6" cy="219.9" r="2.4" fill="#0010ff"/>
<circle cx="236.8" cy="219.5" r="2.4" fill="#0010ff"/>
<circle cx="222.8" cy="224.1" r="2.4" fill="#0010ff"/>
<circle cx="237.7" cy="225.3" r="2.4" fill="#0010ff"/>
<circle cx="239.7" cy="227.9" r="2.4" fill="#0010ff"/>
<circle cx="268.9" cy="218.9" r="2.4" fill="#0010ff"/>
<circle cx="269.4" cy="222.4" r="2.4" fill="#0010ff"/>
<circle cx="278.1" cy="222.8" r="2.4" fill="#0010ff"/>
<circle cx="282.9" cy="222.8" r="2.4" fill="#0010ff"/>
<circle cx="254.1" cy="225.6" r="2.4" fill="#0010ff"/>
<circle cx="253.7" cy="229.9" r="2.4" fill="#0010ff"/>
<circle cx="261.2" cy="227.2" r="2.4" fill="#0010ff"/>
<circle cx="219.5" cy="232.9" r="2.4" fill="#0010ff"/>
<circle cx="226.2" cy="231.8" r="2.4" fill="#0010ff"/>
<circle cx="231.6" cy="232.9" r="2.4" fill="#0010ff"/>
<circle cx="246.4" cy="231.4" r="2.4" fill="#0010ff"/>
<circle cx="241.6" cy="232.4" r="2.4" fill="#0010ff"/>
<circle cx="238.7" cy="235.2" r="2.4" fill="#0010ff"/>
<circle cx="242.5" cy="238.1" r="2.4" fill="#0010ff"/>
<circle cx="223.3" cy="236.2" r="2.4" fill="#0010ff"/>
<circle cx="228.5" cy="240.1" r="2.4" fill="#0010ff"/>
<circle cx="233.9" cy="243.9" r="2.4" fill="#0010ff"/>
<circle cx="240.6" cy="245.8" r="2.4" fill="#0010ff"/>
<circle cx="246.8" cy="246.2" r="2.4" fill="#0010ff"/>
<circle cx="244.5" cy="248.7" r="2.4" fill="#0010ff"/>
<circle cx="253.1" cy="245.8" r="2.4" fill="#0010ff"/>
<circle cx="254.1" cy="247.7" r="2.4" fill="#0010ff"/>
<circle cx="257.9" cy="245.8" r="2.4" fill="#0010ff"/>
<circle cx="262.7" cy="245.8" r="2.4" fill="#0010ff"/>
<circle cx="268.1" cy="245.8" r="2.4" fill="#0010ff"/>
<circle cx="257.3" cy="236.8" r="2.4" fill="#0010ff"/>
<circle cx="263.7" cy="238.7" r="2.4" fill="#0010ff"/>
<circle cx="267.5" cy="237.2" r="2.4" fill="#0010ff"/>
<circle cx="273.9" cy="238.1" r="2.4" fill="#0010ff"/>
<circle cx="277.1" cy="235.2" r="2.4" fill="#0010ff"/>
<circle cx="281.4" cy="232.4" r="2.4" fill="#0010ff"/>
<circle cx="242.0" cy="186.8" r="1.8" fill="#0050ff"/>
<circle cx="253.7" cy="190.7" r="1.8" fill="#0050ff"/>
<circle cx="232.9" cy="200.3" r="1.8" fill="#0050ff"/>
<circle cx="268.5" cy="203.0" r="1.8" fill="#0050ff"/>
<circle cx="273.3" cy="210.7" r="1.8" fill="#0050ff"/>
<circle cx="218.9" cy="212.6" r="1.8" fill="#0050ff"/>
<circle cx="212.8" cy="215.1" r="1.8" fill="#0050ff"/>
<circle cx="223.9" cy="216.0" r="1.8" fill="#0050ff"/>
<circle cx="230.6" cy="214.7" r="1.8" fill="#0050ff"/>
<circle cx="245.0" cy="215.1" r="1.8" fill="#0050ff"/>
<circle cx="257.3" cy="212.6" r="1.8" fill="#0050ff"/>
<circle cx="279.6" cy="214.7" r="1.8" fill="#0050ff"/>
<circle cx="285.2" cy="213.7" r="1.8" fill="#0050ff"/>
<circle cx="288.1" cy="219.5" r="1.8" fill="#0050ff"/>
<circle cx="216.6" cy="219.9" r="1.8" fill="#0050ff"/>
<circle cx="236.8" cy="219.5" r="1.8" fill="#0050ff"/>
<circle cx="222.8" cy="224.1" r="1.8" fill="#0050ff"/>
<circle cx="237.7" cy="225.3" r="1.8" fill="#0050ff"/>
<circle cx="239.7" cy="227.9" r="1.8" fill="#0050ff"/>
<circle cx="268.9" cy="218.9" r="1.8" fill="#0050ff"/>
<circle cx="269.4" cy="222.4" r="1.8" fill="#0050ff"/>
<circle cx="278.1" cy="222.8" r="1.8" fill="#0050ff"/>
<circle cx="282.9" cy="222.8" r="1.8" fill="#0050ff"/>
<circle cx="254.1" cy="225.6" r="1.8" fill="#0050ff"/>
<circle cx="253.7" cy="229.9" r="1.8" fill="#0050ff"/>
<circle cx="261.2" cy="227.2" r="1.8" fill="#0050ff"/>
<circle cx="219.5" cy="232.9" r="1.8" fill="#0050ff"/>
<circle cx="226.2" cy="231.8" r="1.8" fill="#0050ff"/>
<circle cx="231.6" cy="232.9" r="1.8" fill="#0050ff"/>
<circle cx="246.4" cy="231.4" r="1.8" fill="#0050ff"/>
<circle cx="241.6" cy="232.4" r="1.8" fill="#0050ff"/>
<circle cx="238.7" cy="235.2" r="1.8" fill="#0050ff"/>
<circle cx="242.5" cy="238.1" r="1.8" fill="#0050ff"/>
<circle cx="223.3" cy="236.2" r="1.8" fill="#0050ff"/>
<circle cx="228.5" cy="240.1" r="1.8" fill="#0050ff"/>
<circle cx="233.9" cy="243.9" r="1.8" fill="#0050ff"/>
<circle cx="240.6" cy="245.8" r="1.8" fill="#0050ff"/>
<circle cx="246.8" cy="246.2" r="1.8" fill="#0050ff"/>
<circle cx="244.5" cy="248.7" r="1.8" fill="#0050ff"/>
<circle cx="253.1" cy="245.8" r="1.8" fill="#0050ff"/>
<circle cx="254.1" cy="247.7" r="1.8" fill="#0050ff"/>
<circle cx="257.9" cy="245.8" r="1.8" fill="#0050ff"/>
<circle cx="262.7" cy="245.8" r="1.8" fill="#0050ff"/>
<circle cx="268.1" cy="245.8" r="1.8" fill="#0050ff"/>
<circle cx="257.3" cy="236.8" r="1.8" fill="#0050ff"/>
<circle cx="263.7" cy="238.7" r="1.8" fill="#0050ff"/>
<circle cx="267.5" cy="237.2" r="1.8" fill="#0050ff"/>
<circle cx="273.9" cy="238.1" r="1.8" fill="#0050ff"/>
<circle cx="277.1" cy="235.2" r="1.8" fill="#0050ff"/>
<circle cx="281.4" cy="232.4" r="1.8" fill="#0050ff"/>
<circle cx="242.0" cy="186.8" r="1.25" fill="#28a8ff"/>
<circle cx="253.7" cy="190.7" r="1.25" fill="#28a8ff"/>
<circle cx="232.9" cy="200.3" r="1.25" fill="#28a8ff"/>
<circle cx="268.5" cy="203.0" r="1.25" fill="#28a8ff"/>
<circle cx="273.3" cy="210.7" r="1.25" fill="#28a8ff"/>
<circle cx="218.9" cy="212.6" r="1.25" fill="#28a8ff"/>
<circle cx="212.8" cy="215.1" r="1.25" fill="#28a8ff"/>
<circle cx="223.9" cy="216.0" r="1.25" fill="#28a8ff"/>
<circle cx="230.6" cy="214.7" r="1.25" fill="#28a8ff"/>
<circle cx="245.0" cy="215.1" r="1.25" fill="#28a8ff"/>
<circle cx="257.3" cy="212.6" r="1.25" fill="#28a8ff"/>
<circle cx="279.6" cy="214.7" r="1.25" fill="#28a8ff"/>
<circle cx="285.2" cy="213.7" r="1.25" fill="#28a8ff"/>
<circle cx="288.1" cy="219.5" r="1.25" fill="#28a8ff"/>
<circle cx="216.6" cy="219.9" r="1.25" fill="#28a8ff"/>
<circle cx="236.8" cy="219.5" r="1.25" fill="#28a8ff"/>
<circle cx="222.8" cy="224.1" r="1.25" fill="#28a8ff"/>
<circle cx="237.7" cy="225.3" r="1.25" fill="#28a8ff"/>
<circle cx="239.7" cy="227.9" r="1.25" fill="#28a8ff"/>
<circle cx="268.9" cy="218.9" r="1.25" fill="#28a8ff"/>
<circle cx="269.4" cy="222.4" r="1.25" fill="#28a8ff"/>
<circle cx="278.1" cy="222.8" r="1.25" fill="#28a8ff"/>
<circle cx="282.9" cy="222.8" r="1.25" fill="#28a8ff"/>
<circle cx="254.1" cy="225.6" r="1.25" fill="#28a8ff"/>
<circle cx="253.7" cy="229.9" r="1.25" fill="#28a8ff"/>
<circle cx="261.2" cy="227.2" r="1.25" fill="#28a8ff"/>
<circle cx="219.5" cy="232.9" r="1.25" fill="#28a8ff"/>
<circle cx="226.2" cy="231.8" r="1.25" fill="#28a8ff"/>
<circle cx="231.6" cy="232.9" r="1.25" fill="#28a8ff"/>
<circle cx="246.4" cy="231.4" r="1.25" fill="#28a8ff"/>
<circle cx="241.6" cy="232.4" r="1.25" fill="#28a8ff"/>
<circle cx="238.7" cy="235.2" r="1.25" fill="#28a8ff"/>
<circle cx="242.5" cy="238.1" r="1.25" fill="#28a8ff"/>
<circle cx="223.3" cy="236.2" r="1.25" fill="#28a8ff"/>
<circle cx="228.5" cy="240.1" r="1.25" fill="#28a8ff"/>
<circle cx="233.9" cy="243.9" r="1.25" fill="#28a8ff"/>
<circle cx="240.6" cy="245.8" r="1.25" fill="#28a8ff"/>
<circle cx="246.8" cy="246.2" r="1.25" fill="#28a8ff"/>
<circle cx="244.5" cy="248.7" r="1.25" fill="#28a8ff"/>
<circle cx="253.1" cy="245.8" r="1.25" fill="#28a8ff"/>
<circle cx="254.1" cy="247.7" r="1.25" fill="#28a8ff"/>
<circle cx="257.9" cy="245.8" r="1.25" fill="#28a8ff"/>
<circle cx="262.7" cy="245.8" r="1.25" fill="#28a8ff"/>
<circle cx="268.1" cy="245.8" r="1.25" fill="#28a8ff"/>
<circle cx="257.3" cy="236.8" r="1.25" fill="#28a8ff"/>
<circle cx="263.7" cy="238.7" r="1.25" fill="#28a8ff"/>
<circle cx="267.5" cy="237.2" r="1.25" fill="#28a8ff"/>
<circle cx="273.9" cy="238.1" r="1.25" fill="#28a8ff"/>
<circle cx="277.1" cy="235.2" r="1.25" fill="#28a8ff"/>
<circle cx="281.4" cy="232.4" r="1.25" fill="#28a8ff"/>
<circle cx="242.0" cy="186.8" r="1.5" fill="#18a8ff"/>
<circle cx="253.7" cy="190.7" r="1.5" fill="#18a8ff"/>
<circle cx="232.9" cy="200.3" r="1.5" fill="#18a8ff"/>
<circle cx="268.5" cy="203.0" r="1.5" fill="#18a8ff"/>
<circle cx="273.3" cy="210.7" r="1.5" fill="#18a8ff"/>
<circle cx="218.9" cy="212.6" r="1.5" fill="#18a8ff"/>
<circle cx="212.8" cy="215.1" r="1.5" fill="#18a8ff"/>
<circle cx="223.9" cy="216.0" r="1.5" fill="#18a8ff"/>
<circle cx="230.6" cy="214.7" r="1.5" fill="#18a8ff"/>
<circle cx="245.0" cy="215.1" r="1.5" fill="#18a8ff"/>
<circle cx="257.3" cy="212.6" r="1.5" fill="#18a8ff"/>
<circle cx="279.6" cy="214.7" r="1.5" fill="#18a8ff"/>
<circle cx="285.2" cy="213.7" r="1.5" fill="#18a8ff"/>
<circle cx="288.1" cy="219.5" r="1.5" fill="#18a8ff"/>
<circle cx="216.6" cy="219.9" r="1.5" fill="#18a8ff"/>
<circle cx="236.8" cy="219.5" r="1.5" fill="#18a8ff"/>
<circle cx="222.8" cy="224.1" r="1.5" fill="#18a8ff"/>
<circle cx="237.7" cy="225.3" r="1.5" fill="#18a8ff"/>
<circle cx="239.7" cy="227.9" r="1.5" fill="#18a8ff"/>
<circle cx="268.9" cy="218.9" r="1.5" fill="#18a8ff"/>
<circle cx="269.4" cy="222.4" r="1.5" fill="#18a8ff"/>
<circle cx="278.1" cy="222.8" r="1.5" fill="#18a8ff"/>
<circle cx="282.9" cy="222.8" r="1.5" fill="#18a8ff"/>
<circle cx="254.1" cy="225.6" r="1.5" fill="#18a8ff"/>
<circle cx="253.7" cy="229.9" r="1.5" fill="#18a8ff"/>
<circle cx="261.2" cy="227.2" r="1.5" fill="#18a8ff"/>
<circle cx="219.5" cy="232.9" r="1.5" fill="#18a8ff"/>
<circle cx="226.2" cy="231.8" r="1.5" fill="#18a8ff"/>
<circle cx="231.6" cy="232.9" r="1.5" fill="#18a8ff"/>
<circle cx="246.4" cy="231.4" r="1.5" fill="#18a8ff"/>
<circle cx="241.6" cy="232.4" r="1.5" fill="#18a8ff"/>
<circle cx="238.7" cy="235.2" r="1.5" fill="#18a8ff"/>
<circle cx="242.5" cy="238.1" r="1.5" fill="#18a8ff"/>
<circle cx="223.3" cy="236.2" r="1.5" fill="#18a8ff"/>
<circle cx="228.5" cy="240.1" r="1.5" fill="#18a8ff"/>
<circle cx="233.9" cy="243.9" r="1.5" fill="#18a8ff"/>
<circle cx="240.6" cy="245.8" r="1.5" fill="#18a8ff"/>
<circle cx="246.8" cy="246.2" r="1.5" fill="#18a8ff"/>
<circle cx="244.5" cy="248.7" r="1.5" fill="#18a8ff"/>
<circle cx="253.1" cy="245.8" r="1.5" fill="#18a8ff"/>
<circle cx="254.1" cy="247.7" r="1.5" fill="#18a8ff"/>
<circle cx="257.9" cy="245.8" r="1.5" fill="#18a8ff"/>
<circle cx="262.7" cy="245.8" r="1.5" fill="#18a8ff"/>
<circle cx="268.1" cy="245.8" r="1.5" fill="#18a8ff"/>
<circle cx="257.3" cy="236.8" r="1.5" fill="#18a8ff"/>
<circle cx="263.7" cy="238.7" r="1.5" fill="#18a8ff"/>
<circle cx="267.5" cy="237.2" r="1.5" fill="#18a8ff"/>
<circle cx="273.9" cy="238.1" r="1.5" fill="#18a8ff"/>
<circle cx="277.1" cy="235.2" r="1.5" fill="#18a8ff"/>
<circle cx="281.4" cy="232.4" r="1.5" fill="#18a8ff"/>
<circle cx="242.0" cy="186.8" r="0.9" fill="#48e0ff"/>
<circle cx="253.7" cy="190.7" r="0.9" fill="#48e0ff"/>
<circle cx="232.9" cy="200.3" r="0.9" fill="#48e0ff"/>
<circle cx="268.5" cy="203.0" r="0.9" fill="#48e0ff"/>
<circle cx="273.3" cy="210.7" r="0.9" fill="#48e0ff"/>
<circle cx="218.9" cy="212.6" r="0.9" fill="#48e0ff"/>
<circle cx="212.8" cy="215.1" r="0.9" fill="#48e0ff"/>
<circle cx="223.9" cy="216.0" r="0.9" fill="#48e0ff"/>
<circle cx="230.6" cy="214.7" r="0.9" fill="#48e0ff"/>
<circle cx="245.0" cy="215.1" r="0.9" fill="#48e0ff"/>
<circle cx="257.3" cy="212.6" r="0.9" fill="#48e0ff"/>
<circle cx="279.6" cy="214.7" r="0.9" fill="#48e0ff"/>
<circle cx="285.2" cy="213.7" r="0.9" fill="#48e0ff"/>
<circle cx="288.1" cy="219.5" r="0.9" fill="#48e0ff"/>
<circle cx="216.6" cy="219.9" r="0.9" fill="#48e0ff"/>
<circle cx="236.8" cy="219.5" r="0.9" fill="#48e0ff"/>
<circle cx="222.8" cy="224.1" r="0.9" fill="#48e0ff"/>
<circle cx="237.7" cy="225.3" r="0.9" fill="#48e0ff"/>
<circle cx="239.7" cy="227.9" r="0.9" fill="#48e0ff"/>
<circle cx="268.9" cy="218.9" r="0.9" fill="#48e0ff"/>
<circle cx="269.4" cy="222.4" r="0.9" fill="#48e0ff"/>
<circle cx="278.1" cy="222.8" r="0.9" fill="#48e0ff"/>
<circle cx="282.9" cy="222.8" r="0.9" fill="#48e0ff"/>
<circle cx="254.1" cy="225.6" r="0.9" fill="#48e0ff"/>
<circle cx="253.7" cy="229.9" r="0.9" fill="#48e0ff"/>
<circle cx="261.2" cy="227.2" r="0.9" fill="#48e0ff"/>
<circle cx="219.5" cy="232.9" r="0.9" fill="#48e0ff"/>
<circle cx="226.2" cy="231.8" r="0.9" fill="#48e0ff"/>
<circle cx="231.6" cy="232.9" r="0.9" fill="#48e0ff"/>
<circle cx="246.4" cy="231.4" r="0.9" fill="#48e0ff"/>
<circle cx="241.6" cy="232.4" r="0.9" fill="#48e0ff"/>
<circle cx="238.7" cy="235.2" r="0.9" fill="#48e0ff"/>
<circle cx="242.5" cy="238.1" r="0.9" fill="#48e0ff"/>
<circle cx="223.3" cy="236.2" r="0.9" fill="#48e0ff"/>
<circle cx="228.5" cy="240.1" r="0.9" fill="#48e0ff"/>
<circle cx="233.9" cy="243.9" r="0.9" fill="#48e0ff"/>
<circle cx="240.6" cy="245.8" r="0.9" fill="#48e0ff"/>
<circle cx="246.8" cy="246.2" r="0.9" fill="#48e0ff"/>
<circle cx="244.5" cy="248.7" r="0.9" fill="#48e0ff"/>
<circle cx="253.1" cy="245.8" r="0.9" fill="#48e0ff"/>
<circle cx="254.1" cy="247.7" r="0.9" fill="#48e0ff"/>
<circle cx="257.9" cy="245.8" r="0.9" fill="#48e0ff"/>
<circle cx="262.7" cy="245.8" r="0.9" fill="#48e0ff"/>
<circle cx="268.1" cy="245.8" r="0.9" fill="#48e0ff"/>
<circle cx="257.3" cy="236.8" r="0.9" fill="#48e0ff"/>
<circle cx="263.7" cy="238.7" r="0.9" fill="#48e0ff"/>
<circle cx="267.5" cy="237.2" r="0.9" fill="#48e0ff"/>
<circle cx="273.9" cy="238.1" r="0.9" fill="#48e0ff"/>
<circle cx="277.1" cy="235.2" r="0.9" fill="#48e0ff"/>
<circle cx="281.4" cy="232.4" r="0.9" fill="#48e0ff"/>
<circle cx="242.0" cy="186.8" r="2.1" fill="#0098ff"/>
<circle cx="253.7" cy="190.7" r="2.1" fill="#0098ff"/>
<circle cx="232.9" cy="200.3" r="2.1" fill="#0098ff"/>
<circle cx="268.5" cy="203.0" r="2.1" fill="#0098ff"/>
<circle cx="218.9" cy="212.6" r="2.1" fill="#0098ff"/>
<circle cx="245.0" cy="215.1" r="2.1" fill="#0098ff"/>
<circle cx="257.3" cy="212.6" r="2.1" fill="#0098ff"/>
<circle cx="279.6" cy="214.7" r="2.1" fill="#0098ff"/>
<circle cx="288.1" cy="219.5" r="2.1" fill="#0098ff"/>
<circle cx="222.8" cy="224.1" r="2.1" fill="#0098ff"/>
<circle cx="237.7" cy="225.3" r="2.1" fill="#0098ff"/>
<circle cx="239.7" cy="227.9" r="2.1" fill="#0098ff"/>
<circle cx="268.9" cy="218.9" r="2.1" fill="#0098ff"/>
<circle cx="269.4" cy="222.4" r="2.1" fill="#0098ff"/>
<circle cx="278.1" cy="222.8" r="2.1" fill="#0098ff"/>
<circle cx="282.9" cy="222.8" r="2.1" fill="#0098ff"/>
<circle cx="254.1" cy="225.6" r="2.1" fill="#0098ff"/>
<circle cx="253.7" cy="229.9" r="2.1" fill="#0098ff"/>
<circle cx="219.5" cy="232.9" r="2.1" fill="#0098ff"/>
<circle cx="226.2" cy="231.8" r="2.1" fill="#0098ff"/>
<circle cx="246.4" cy="231.4" r="2.1" fill="#0098ff"/>
<circle cx="241.6" cy="232.4" r="2.1" fill="#0098ff"/>
<circle cx="238.7" cy="235.2" r="2.1" fill="#0098ff"/>
<circle cx="228.5" cy="240.1" r="2.1" fill="#0098ff"/>
<circle cx="233.9" cy="243.9" r="2.1" fill="#0098ff"/>
<circle cx="240.6" cy="245.8" r="2.1" fill="#0098ff"/>
<circle cx="246.8" cy="246.2" r="2.1" fill="#0098ff"/>
<circle cx="244.5" cy="248.7" r="2.1" fill="#0098ff"/>
<circle cx="253.1" cy="245.8" r="2.1" fill="#0098ff"/>
<circle cx="254.1" cy="247.7" r="2.1" fill="#0098ff"/>
<circle cx="257.9" cy="245.8" r="2.1" fill="#0098ff"/>
<circle cx="257.3" cy="236.8" r="2.1" fill="#0098ff"/>
<circle cx="263.7" cy="238.7" r="2.1" fill="#0098ff"/>
<circle cx="267.5" cy="237.2" r="2.1" fill="#0098ff"/>
<circle cx="273.9" cy="238.1" r="2.1" fill="#0098ff"/>
<circle cx="242.0" cy="186.8" r="1.6" fill="#00dcff"/>
<circle cx="253.7" cy="190.7" r="1.6" fill="#00dcff"/>
<circle cx="232.9" cy="200.3" r="1.6" fill="#00dcff"/>
<circle cx="268.5" cy="203.0" r="1.6" fill="#00dcff"/>
<circle cx="218.9" cy="212.6" r="1.6" fill="#00dcff"/>
<circle cx="245.0" cy="215.1" r="1.6" fill="#00dcff"/>
<circle cx="257.3" cy="212.6" r="1.6" fill="#00dcff"/>
<circle cx="279.6" cy="214.7" r="1.6" fill="#00dcff"/>
<circle cx="288.1" cy="219.5" r="1.6" fill="#00dcff"/>
<circle cx="222.8" cy="224.1" r="1.6" fill="#00dcff"/>
<circle cx="237.7" cy="225.3" r="1.6" fill="#00dcff"/>
<circle cx="239.7" cy="227.9" r="1.6" fill="#00dcff"/>
<circle cx="268.9" cy="218.9" r="1.6" fill="#00dcff"/>
<circle cx="269.4" cy="222.4" r="1.6" fill="#00dcff"/>
<circle cx="278.1" cy="222.8" r="1.6" fill="#00dcff"/>
<circle cx="282.9" cy="222.8" r="1.6" fill="#00dcff"/>
<circle cx="254.1" cy="225.6" r="1.6" fill="#00dcff"/>
<circle cx="253.7" cy="229.9" r="1.6" fill="#00dcff"/>
<circle cx="219.5" cy="232.9" r="1.6" fill="#00dcff"/>
<circle cx="226.2" cy="231.8" r="1.6" fill="#00dcff"/>
<circle cx="246.4" cy="231.4" r="1.6" fill="#00dcff"/>
<circle cx="241.6" cy="232.4" r="1.6" fill="#00dcff"/>
<circle cx="238.7" cy="235.2" r="1.6" fill="#00dcff"/>
<circle cx="228.5" cy="240.1" r="1.6" fill="#00dcff"/>
<circle cx="233.9" cy="243.9" r="1.6" fill="#00dcff"/>
<circle cx="240.6" cy="245.8" r="1.6" fill="#00dcff"/>
<circle cx="246.8" cy="246.2" r="1.6" fill="#00dcff"/>
<circle cx="244.5" cy="248.7" r="1.6" fill="#00dcff"/>
<circle cx="253.1" cy="245.8" r="1.6" fill="#00dcff"/>
<circle cx="254.1" cy="247.7" r="1.6" fill="#00dcff"/>
<circle cx="257.9" cy="245.8" r="1.6" fill="#00dcff"/>
<circle cx="257.3" cy="236.8" r="1.6" fill="#00dcff"/>
<circle cx="263.7" cy="238.7" r="1.6" fill="#00dcff"/>
<circle cx="267.5" cy="237.2" r="1.6" fill="#00dcff"/>
<circle cx="273.9" cy="238.1" r="1.6" fill="#00dcff"/>
<circle cx="242.0" cy="186.8" r="0.9" fill="#60ffd0"/>
<circle cx="253.7" cy="190.7" r="0.9" fill="#60ffd0"/>
<circle cx="232.9" cy="200.3" r="0.9" fill="#60ffd0"/>
<circle cx="268.5" cy="203.0" r="0.9" fill="#60ffd0"/>
<circle cx="218.9" cy="212.6" r="0.9" fill="#60ffd0"/>
<circle cx="245.0" cy="215.1" r="0.9" fill="#60ffd0"/>
<circle cx="257.3" cy="212.6" r="0.9" fill="#60ffd0"/>
<circle cx="279.6" cy="214.7" r="0.9" fill="#60ffd0"/>
<circle cx="288.1" cy="219.5" r="0.9" fill="#60ffd0"/>
<circle cx="222.8" cy="224.1" r="0.9" fill="#60ffd0"/>
<circle cx="237.7" cy="225.3" r="0.9" fill="#60ffd0"/>
<circle cx="239.7" cy="227.9" r="0.9" fill="#60ffd0"/>
<circle cx="268.9" cy="218.9" r="0.9" fill="#60ffd0"/>
<circle cx="269.4" cy="222.4" r="0.9" fill="#60ffd0"/>
<circle cx="278.1" cy="222.8" r="0.9" fill="#60ffd0"/>
<circle cx="282.9" cy="222.8" r="0.9" fill="#60ffd0"/>
<circle cx="254.1" cy="225.6" r="0.9" fill="#60ffd0"/>
<circle cx="253.7" cy="229.9" r="0.9" fill="#60ffd0"/>
<circle cx="219.5" cy="232.9" r="0.9" fill="#60ffd0"/>
<circle cx="226.2" cy="231.8" r="0.9" fill="#60ffd0"/>
<circle cx="246.4" cy="231.4" r="0.9" fill="#60ffd0"/>
<circle cx="241.6" cy="232.4" r="0.9" fill="#60ffd0"/>
<circle cx="238.7" cy="235.2" r="0.9" fill="#60ffd0"/>
<circle cx="228.5" cy="240.1" r="0.9" fill="#60ffd0"/>
<circle cx="233.9" cy="243.9" r="0.9" fill="#60ffd0"/>
<circle cx="240.6" cy="245.8" r="0.9" fill="#60ffd0"/>
<circle cx="246.8" cy="246.2" r="0.9" fill="#60ffd0"/>
<circle cx="244.5" cy="248.7" r="0.9" fill="#60ffd0"/>
<circle cx="253.1" cy="245.8" r="0.9" fill="#60ffd0"/>
<circle cx="254.1" cy="247.7" r="0.9" fill="#60ffd0"/>
<circle cx="257.9" cy="245.8" r="0.9" fill="#60ffd0"/>
<circle cx="257.3" cy="236.8" r="0.9" fill="#60ffd0"/>
<circle cx="263.7" cy="238.7" r="0.9" fill="#60ffd0"/>
<circle cx="267.5" cy="237.2" r="0.9" fill="#60ffd0"/>
<circle cx="273.9" cy="238.1" r="0.9" fill="#60ffd0"/>
<circle cx="222.8" cy="224.1" r="2.4" fill="#00d8ff"/>
<circle cx="237.7" cy="225.3" r="2.4" fill="#00d8ff"/>
<circle cx="269.4" cy="222.4" r="2.4" fill="#00d8ff"/>
<circle cx="246.4" cy="231.4" r="2.4" fill="#00d8ff"/>
<circle cx="228.5" cy="240.1" r="2.4" fill="#00d8ff"/>
<circle cx="233.9" cy="243.9" r="2.4" fill="#00d8ff"/>
<circle cx="240.6" cy="245.8" r="2.4" fill="#00d8ff"/>
<circle cx="246.8" cy="246.2" r="2.4" fill="#00d8ff"/>
<circle cx="273.9" cy="238.1" r="2.4" fill="#00d8ff"/>
<circle cx="222.8" cy="224.1" r="1.8" fill="#90ff70"/>
<circle cx="237.7" cy="225.3" r="1.8" fill="#90ff70"/>
<circle cx="269.4" cy="222.4" r="1.8" fill="#90ff70"/>
<circle cx="246.4" cy="231.4" r="1.8" fill="#90ff70"/>
<circle cx="228.5" cy="240.1" r="1.8" fill="#90ff70"/>
<circle cx="233.9" cy="243.9" r="1.8" fill="#90ff70"/>
<circle cx="240.6" cy="245.8" r="1.8" fill="#90ff70"/>
<circle cx="246.8" cy="246.2" r="1.8" fill="#90ff70"/>
<circle cx="273.9" cy="238.1" r="1.8" fill="#90ff70"/>
<circle cx="222.8" cy="224.1" r="1.2" fill="#ffe800"/>
<circle cx="237.7" cy="225.3" r="1.2" fill="#ffe800"/>
<circle cx="269.4" cy="222.4" r="1.2" fill="#ffe800"/>
<circle cx="246.4" cy="231.4" r="1.2" fill="#ffe800"/>
<circle cx="228.5" cy="240.1" r="1.2" fill="#ffe800"/>
<circle cx="233.9" cy="243.9" r="1.2" fill="#ffe800"/>
<circle cx="240.6" cy="245.8" r="1.2" fill="#ffe800"/>
<circle cx="246.8" cy="246.2" r="1.2" fill="#ffe800"/>
<circle cx="273.9" cy="238.1" r="1.2" fill="#ffe800"/>
<circle cx="222.8" cy="224.1" r="2.5" fill="#00e0ff"/>
<circle cx="246.4" cy="231.4" r="2.5" fill="#00e0ff"/>
<circle cx="228.5" cy="240.1" r="2.5" fill="#00e0ff"/>
<circle cx="233.9" cy="243.9" r="2.5" fill="#00e0ff"/>
<circle cx="240.6" cy="245.8" r="2.5" fill="#00e0ff"/>
<circle cx="246.8" cy="246.2" r="2.5" fill="#00e0ff"/>
<circle cx="273.9" cy="238.1" r="2.5" fill="#00e0ff"/>
<circle cx="222.8" cy="224.1" r="2.0" fill="#b0ff50"/>
<circle cx="246.4" cy="231.4" r="2.0" fill="#b0ff50"/>
<circle cx="228.5" cy="240.1" r="2.0" fill="#b0ff50"/>
<circle cx="233.9" cy="243.9" r="2.0" fill="#b0ff50"/>
<circle cx="240.6" cy="245.8" r="2.0" fill="#b0ff50"/>
<circle cx="246.8" cy="246.2" r="2.0" fill="#b0ff50"/>
<circle cx="273.9" cy="238.1" r="2.0" fill="#b0ff50"/>
<circle cx="222.8" cy="224.1" r="1.5" fill="#ffd000"/>
<circle cx="246.4" cy="231.4" r="1.5" fill="#ffd000"/>
<circle cx="228.5" cy="240.1" r="1.5" fill="#ffd000"/>
<circle cx="233.9" cy="243.9" r="1.5" fill="#ffd000"/>
<circle cx="240.6" cy="245.8" r="1.5" fill="#ffd000"/>
<circle cx="246.8" cy="246.2" r="1.5" fill="#ffd000"/>
<circle cx="273.9" cy="238.1" r="1.5" fill="#ffd000"/>
<circle cx="222.8" cy="224.1" r="0.9" fill="#ff1000"/>
<circle cx="246.4" cy="231.4" r="0.9" fill="#ff1000"/>
<circle cx="228.5" cy="240.1" r="0.9" fill="#ff1000"/>
<circle cx="233.9" cy="243.9" r="0.9" fill="#ff1000"/>
<circle cx="240.6" cy="245.8" r="0.9" fill="#ff1000"/>
<circle cx="246.8" cy="246.2" r="0.9" fill="#ff1000"/>
<circle cx="273.9" cy="238.1" r="0.9" fill="#ff1000"/>
</g></g>
<circle cx="250.8" cy="212" r="40.2" fill="none" stroke="#2a2a2a" stroke-width="1.15"/>
<rect x="399.4" y="246" width="10.6" height="4.6" fill="#404040"/>
<text x="414.6" y="251.1" font-size="8.8" text-anchor="start" fill="#000">Control</text>
<rect x="399.4" y="256.5" width="10.6" height="4.6" fill="#1470c4"/>
<text x="414.6" y="261.6" font-size="8.8" text-anchor="start" fill="#000">ELS</text>
<rect x="399.4" y="267.1" width="10.6" height="4.6" fill="#ff0000"/>
<text x="414.6" y="272.20000000000005" font-size="8.8" text-anchor="start" fill="#000">Novel ELS</text>
<text x="4.0" y="274.4" font-size="13.2" text-anchor="start" fill="#000">(c)</text>
<text x="44" y="279.6" font-size="8.8" text-anchor="start" fill="#000">Probe trial</text>
<line x1="42" y1="285.3" x2="42" y2="384.3" stroke="#111" stroke-width="1"/>
<line x1="41.5" y1="383.8" x2="127.7" y2="383.8" stroke="#111" stroke-width="1"/>
<line x1="39" y1="383.8" x2="42" y2="383.8" stroke="#111" stroke-width="1"/>
<text x="32" y="387.0" font-size="9" text-anchor="end" fill="#000">0</text>
<line x1="39" y1="364.1" x2="42" y2="364.1" stroke="#111" stroke-width="1"/>
<text x="32" y="367.3" font-size="9" text-anchor="end" fill="#000">2</text>
<line x1="39" y1="344.40000000000003" x2="42" y2="344.40000000000003" stroke="#111" stroke-width="1"/>
<text x="32" y="347.6" font-size="9" text-anchor="end" fill="#000">4</text>
<line x1="39" y1="324.7" x2="42" y2="324.7" stroke="#111" stroke-width="1"/>
<text x="32" y="327.9" font-size="9" text-anchor="end" fill="#000">6</text>
<line x1="39" y1="305.0" x2="42" y2="305.0" stroke="#111" stroke-width="1"/>
<text x="32" y="308.2" font-size="9" text-anchor="end" fill="#000">8</text>
<line x1="39" y1="285.3" x2="42" y2="285.3" stroke="#111" stroke-width="1"/>
<text x="32" y="288.5" font-size="9" text-anchor="end" fill="#000">10</text>
<text x="20.9" y="331.6" font-size="9" text-anchor="middle" fill="#000" transform="rotate(-90 20.9 331.6)">Platform crossing</text>
<rect x="49.4" y="329.625" width="14.200000000000003" height="54.175" fill="#404040"/>
<line x1="56.5" y1="320.76" x2="56.5" y2="329.625" stroke="#444" stroke-width="0.8"/>
<line x1="54.7" y1="320.76" x2="58.3" y2="320.76" stroke="#444" stroke-width="0.8"/>
<circle cx="56.5" cy="295.2" r="3.05" fill="none" stroke="#c4c4c4" stroke-width="0.95"/>
<circle cx="56.5" cy="314.9" r="3.05" fill="none" stroke="#c4c4c4" stroke-width="0.95"/>
<circle cx="56.5" cy="324.7" r="3.05" fill="none" stroke="#c4c4c4" stroke-width="0.95"/>
<circle cx="56.5" cy="344.4" r="3.05" fill="none" stroke="#c4c4c4" stroke-width="0.95"/>
<circle cx="56.5" cy="354.2" r="3.05" fill="none" stroke="#c4c4c4" stroke-width="0.95"/>
<rect x="78.6" y="356.22" width="14.400000000000006" height="27.58" fill="#1470c4"/>
<line x1="85.8" y1="350.8025" x2="85.8" y2="356.22" stroke="#444" stroke-width="0.8"/>
<line x1="84.0" y1="350.8025" x2="87.6" y2="350.8025" stroke="#444" stroke-width="0.8"/>
<circle cx="85.8" cy="344.4" r="3.05" fill="none" stroke="#c4c4c4" stroke-width="0.95"/>
<circle cx="85.8" cy="354.2" r="3.05" fill="none" stroke="#c4c4c4" stroke-width="0.95"/>
<circle cx="85.8" cy="364.1" r="3.05" fill="none" stroke="#c4c4c4" stroke-width="0.95"/>
<circle cx="85.8" cy="373.9" r="3.05" fill="none" stroke="#c4c4c4" stroke-width="0.95"/>
<rect x="107.6" y="360.84950000000003" width="14.400000000000006" height="22.950499999999998" fill="#ff0000"/>
<line x1="114.8" y1="355.9245" x2="114.8" y2="360.84950000000003" stroke="#444" stroke-width="0.8"/>
<line x1="113.0" y1="355.9245" x2="116.6" y2="355.9245" stroke="#444" stroke-width="0.8"/>
<circle cx="114.8" cy="344.4" r="3.05" fill="none" stroke="#c4c4c4" stroke-width="0.95"/>
<circle cx="114.8" cy="354.2" r="3.05" fill="none" stroke="#c4c4c4" stroke-width="0.95"/>
<circle cx="114.8" cy="364.1" r="3.05" fill="none" stroke="#c4c4c4" stroke-width="0.95"/>
<circle cx="114.8" cy="373.9" r="3.05" fill="none" stroke="#c4c4c4" stroke-width="0.95"/>
<text x="114.8" y="337.3" font-size="7" text-anchor="middle" fill="#000" font-family="DejaVu Sans, sans-serif">★</text>
<text x="145.3" y="275.0" font-size="13.2" text-anchor="start" fill="#000">(d)</text>
<line x1="195" y1="284.9" x2="195" y2="383.9" stroke="#111" stroke-width="1"/>
<line x1="194.5" y1="383.4" x2="272" y2="383.4" stroke="#111" stroke-width="1"/>
<line x1="192" y1="383.4" x2="195" y2="383.4" stroke="#111" stroke-width="1"/>
<text x="185.4" y="386.59999999999997" font-size="9" text-anchor="end" fill="#000">0</text>
<line x1="192" y1="358.775" x2="195" y2="358.775" stroke="#111" stroke-width="1"/>
<text x="185.4" y="361.97499999999997" font-size="9" text-anchor="end" fill="#000">1000</text>
<line x1="192" y1="334.15" x2="195" y2="334.15" stroke="#111" stroke-width="1"/>
<text x="185.4" y="337.34999999999997" font-size="9" text-anchor="end" fill="#000">2000</text>
<line x1="192" y1="309.525" x2="195" y2="309.525" stroke="#111" stroke-width="1"/>
<text x="185.4" y="312.72499999999997" font-size="9" text-anchor="end" fill="#000">3000</text>
<line x1="192" y1="284.9" x2="195" y2="284.9" stroke="#111" stroke-width="1"/>
<text x="185.4" y="288.09999999999997" font-size="9" text-anchor="end" fill="#000">4000</text>
<text x="161" y="331.2" font-size="8.85" text-anchor="middle" fill="#000" transform="rotate(-90 161 331.2)">Distanced moved (cm)</text>
<rect x="201.8" y="331.6875" width="13.399999999999977" height="51.712500000000006" fill="#404040"/>
<line x1="208.5" y1="328.48625" x2="208.5" y2="331.6875" stroke="#444" stroke-width="0.8"/>
<line x1="206.7" y1="328.48625" x2="210.3" y2="328.48625" stroke="#444" stroke-width="0.8"/>
<circle cx="208.5" cy="321.0" r="2.9" fill="none" stroke="#c4c4c4" stroke-width="0.95"/>
<circle cx="208.5" cy="325.2" r="2.9" fill="none" stroke="#c4c4c4" stroke-width="0.95"/>
<circle cx="208.5" cy="329.8" r="2.9" fill="none" stroke="#c4c4c4" stroke-width="0.95"/>
<circle cx="208.5" cy="337.8" r="2.9" fill="none" stroke="#c4c4c4" stroke-width="0.95"/>
<circle cx="208.5" cy="341.5" r="2.9" fill="none" stroke="#c4c4c4" stroke-width="0.95"/>
<rect x="227.7" y="332.91875" width="13.200000000000017" height="50.48125" fill="#1470c4"/>
<line x1="234.3" y1="328.24" x2="234.3" y2="332.91875" stroke="#444" stroke-width="0.8"/>
<line x1="232.5" y1="328.24" x2="236.10000000000002" y2="328.24" stroke="#444" stroke-width="0.8"/>
<circle cx="234.3" cy="324.2" r="2.9" fill="none" stroke="#c4c4c4" stroke-width="0.95"/>
<circle cx="234.3" cy="326.9" r="2.9" fill="none" stroke="#c4c4c4" stroke-width="0.95"/>
<circle cx="234.3" cy="336.7" r="2.9" fill="none" stroke="#c4c4c4" stroke-width="0.95"/>
<circle cx="234.3" cy="344.0" r="2.9" fill="none" stroke="#c4c4c4" stroke-width="0.95"/>
<circle cx="234.3" cy="355.1" r="2.9" fill="none" stroke="#c4c4c4" stroke-width="0.95"/>
<rect x="253.4" y="323.06874999999997" width="13.200000000000017" height="60.331250000000004" fill="#ff0000"/>
<line x1="260.0" y1="316.41999999999996" x2="260.0" y2="323.06874999999997" stroke="#444" stroke-width="0.8"/>
<line x1="258.2" y1="316.41999999999996" x2="261.8" y2="316.41999999999996" stroke="#444" stroke-width="0.8"/>
<circle cx="260.0" cy="300.1" r="2.9" fill="none" stroke="#c4c4c4" stroke-width="0.95"/>
<circle cx="260.0" cy="313.1" r="2.9" fill="none" stroke="#c4c4c4" stroke-width="0.95"/>
<circle cx="260.0" cy="325.2" r="2.9" fill="none" stroke="#c4c4c4" stroke-width="0.95"/>
<circle cx="260.0" cy="330.4" r="2.9" fill="none" stroke="#c4c4c4" stroke-width="0.95"/>
<circle cx="260.0" cy="342.4" r="2.9" fill="none" stroke="#c4c4c4" stroke-width="0.95"/>
<line x1="202.7" y1="285.5" x2="266" y2="285.5" stroke="#111" stroke-width="1"/>
<text x="234" y="282.6" font-size="8.8" text-anchor="middle" fill="#000">NS</text>
<text x="285.7" y="274.4" font-size="13.2" text-anchor="start" fill="#000">(e)</text>
<line x1="328.8" y1="285.5" x2="328.8" y2="384.3" stroke="#111" stroke-width="1"/>
<line x1="328.3" y1="383.8" x2="416" y2="383.8" stroke="#111" stroke-width="1"/>
<line x1="325.8" y1="383.8" x2="328.8" y2="383.8" stroke="#111" stroke-width="1"/>
<text x="319.3" y="387.0" font-size="9" text-anchor="end" fill="#000">0</text>
<line x1="325.8" y1="364.14" x2="328.8" y2="364.14" stroke="#111" stroke-width="1"/>
<text x="319.3" y="367.34" font-size="9" text-anchor="end" fill="#000">5</text>
<line x1="325.8" y1="344.48" x2="328.8" y2="344.48" stroke="#111" stroke-width="1"/>
<text x="319.3" y="347.68" font-size="9" text-anchor="end" fill="#000">10</text>
<line x1="325.8" y1="324.82" x2="328.8" y2="324.82" stroke="#111" stroke-width="1"/>
<text x="319.3" y="328.02" font-size="9" text-anchor="end" fill="#000">15</text>
<line x1="325.8" y1="305.15999999999997" x2="328.8" y2="305.15999999999997" stroke="#111" stroke-width="1"/>
<text x="319.3" y="308.35999999999996" font-size="9" text-anchor="end" fill="#000">20</text>
<line x1="325.8" y1="285.5" x2="328.8" y2="285.5" stroke="#111" stroke-width="1"/>
<text x="319.3" y="288.7" font-size="9" text-anchor="end" fill="#000">25</text>
<text x="303.2" y="332.4" font-size="8.95" text-anchor="middle" fill="#000" transform="rotate(-90 303.2 332.4)">Velocity (cm/s)</text>
<rect x="336" y="320.1016" width="15" height="63.69840000000001" fill="#404040"/>
<line x1="343.5" y1="315.38320000000004" x2="343.5" y2="320.1016" stroke="#444" stroke-width="0.8"/>
<line x1="341.7" y1="315.38320000000004" x2="345.3" y2="315.38320000000004" stroke="#444" stroke-width="0.8"/>
<circle cx="343.5" cy="306.7" r="2.9" fill="none" stroke="#c4c4c4" stroke-width="0.95"/>
<circle cx="343.5" cy="311.5" r="2.9" fill="none" stroke="#c4c4c4" stroke-width="0.95"/>
<circle cx="343.5" cy="320.1" r="2.9" fill="none" stroke="#c4c4c4" stroke-width="0.95"/>
<circle cx="343.5" cy="330.3" r="2.9" fill="none" stroke="#c4c4c4" stroke-width="0.95"/>
<circle cx="343.5" cy="338.6" r="2.9" fill="none" stroke="#c4c4c4" stroke-width="0.95"/>
<rect x="365" y="317.7424" width="15.300000000000011" height="66.05760000000001" fill="#1470c4"/>
<line x1="372.65" y1="311.058" x2="372.65" y2="317.7424" stroke="#444" stroke-width="0.8"/>
<line x1="370.84999999999997" y1="311.058" x2="374.45" y2="311.058" stroke="#444" stroke-width="0.8"/>
<circle cx="372.6" cy="304.4" r="2.9" fill="none" stroke="#c4c4c4" stroke-width="0.95"/>
<circle cx="372.6" cy="313.8" r="2.9" fill="none" stroke="#c4c4c4" stroke-width="0.95"/>
<circle cx="372.6" cy="320.1" r="2.9" fill="none" stroke="#c4c4c4" stroke-width="0.95"/>
<circle cx="372.6" cy="331.5" r="2.9" fill="none" stroke="#c4c4c4" stroke-width="0.95"/>
<circle cx="372.6" cy="350.8" r="2.9" fill="none" stroke="#c4c4c4" stroke-width="0.95"/>
<rect x="394.3" y="320.88800000000003" width="14.699999999999989" height="62.912000000000006" fill="#ff0000"/>
<line x1="401.65" y1="315.7764" x2="401.65" y2="320.88800000000003" stroke="#444" stroke-width="0.8"/>
<line x1="399.84999999999997" y1="315.7764" x2="403.45" y2="315.7764" stroke="#444" stroke-width="0.8"/>
<circle cx="401.6" cy="307.1" r="2.9" fill="none" stroke="#c4c4c4" stroke-width="0.95"/>
<circle cx="401.6" cy="314.2" r="2.9" fill="none" stroke="#c4c4c4" stroke-width="0.95"/>
<circle cx="401.6" cy="327.2" r="2.9" fill="none" stroke="#c4c4c4" stroke-width="0.95"/>
<circle cx="401.6" cy="331.5" r="2.9" fill="none" stroke="#c4c4c4" stroke-width="0.95"/>
<circle cx="401.6" cy="336.6" r="2.9" fill="none" stroke="#c4c4c4" stroke-width="0.95"/>
<line x1="334.8" y1="285.5" x2="409.5" y2="285.5" stroke="#111" stroke-width="1"/>
<text x="371.7" y="282.6" font-size="8.8" text-anchor="middle" fill="#000">NS</text>
<text x="3.2" y="412.2" font-size="13.2" text-anchor="start" fill="#000">(f)</text>
<text x="41.2" y="413.2" font-size="8.8" text-anchor="start" fill="#000">Novel object recognition</text>
<line x1="39" y1="444.6" x2="39" y2="534.0" stroke="#111" stroke-width="1"/>
<line x1="38.5" y1="533.5" x2="265.6" y2="533.5" stroke="#111" stroke-width="1"/>
<line x1="36" y1="533.5" x2="39" y2="533.5" stroke="#111" stroke-width="1"/>
<text x="32.1" y="536.7" font-size="9" text-anchor="end" fill="#000">0</text>
<line x1="36" y1="511.275" x2="39" y2="511.275" stroke="#111" stroke-width="1"/>
<text x="32.1" y="514.475" font-size="9" text-anchor="end" fill="#000">20</text>
<line x1="36" y1="489.05" x2="39" y2="489.05" stroke="#111" stroke-width="1"/>
<text x="32.1" y="492.25" font-size="9" text-anchor="end" fill="#000">40</text>
<line x1="36" y1="466.82500000000005" x2="39" y2="466.82500000000005" stroke="#111" stroke-width="1"/>
<text x="32.1" y="470.02500000000003" font-size="9" text-anchor="end" fill="#000">60</text>
<line x1="36" y1="444.6" x2="39" y2="444.6" stroke="#111" stroke-width="1"/>
<text x="32.1" y="447.8" font-size="9" text-anchor="end" fill="#000">80</text>
<text x="16.6" y="489.3" font-size="8.9" text-anchor="middle" fill="#000" transform="rotate(-90 16.6 489.3)">Recognition index (%)</text>
<rect x="46.8" y="491.828125" width="14.0" height="41.671874999999986" fill="#404040"/>
<rect x="75" y="464.6025" width="14.200000000000003" height="68.89749999999998" fill="#ff0000"/>
<line x1="53.8" y1="489.383375" x2="53.8" y2="491.828125" stroke="#444" stroke-width="0.8"/>
<line x1="52.0" y1="489.383375" x2="55.599999999999994" y2="489.383375" stroke="#444" stroke-width="0.8"/>
<line x1="82.1" y1="461.71325" x2="82.1" y2="464.6025" stroke="#444" stroke-width="0.8"/>
<line x1="80.3" y1="461.71325" x2="83.89999999999999" y2="461.71325" stroke="#444" stroke-width="0.8"/>
<circle cx="53.8" cy="481.3" r="3.1" fill="none" stroke="#c4c4c4" stroke-width="0.95"/>
<circle cx="53.8" cy="484.6" r="3.1" fill="none" stroke="#c4c4c4" stroke-width="0.95"/>
<circle cx="53.8" cy="487.9" r="3.1" fill="none" stroke="#c4c4c4" stroke-width="0.95"/>
<circle cx="53.8" cy="491.3" r="3.1" fill="none" stroke="#c4c4c4" stroke-width="0.95"/>
<circle cx="53.8" cy="493.5" r="3.1" fill="none" stroke="#c4c4c4" stroke-width="0.95"/>
<circle cx="53.8" cy="496.8" r="3.1" fill="none" stroke="#c4c4c4" stroke-width="0.95"/>
<circle cx="53.8" cy="500.2" r="3.1" fill="none" stroke="#c4c4c4" stroke-width="0.95"/>
<circle cx="53.8" cy="503.5" r="3.1" fill="none" stroke="#c4c4c4" stroke-width="0.95"/>
<circle cx="53.8" cy="505.7" r="3.1" fill="none" stroke="#c4c4c4" stroke-width="0.95"/>
<circle cx="53.8" cy="507.9" r="3.1" fill="none" stroke="#c4c4c4" stroke-width="0.95"/>
<circle cx="82.1" cy="449.0" r="3.1" fill="none" stroke="#c4c4c4" stroke-width="0.95"/>
<circle cx="82.1" cy="452.4" r="3.1" fill="none" stroke="#c4c4c4" stroke-width="0.95"/>
<circle cx="82.1" cy="455.7" r="3.1" fill="none" stroke="#c4c4c4" stroke-width="0.95"/>
<circle cx="82.1" cy="459.0" r="3.1" fill="none" stroke="#c4c4c4" stroke-width="0.95"/>
<circle cx="82.1" cy="462.4" r="3.1" fill="none" stroke="#c4c4c4" stroke-width="0.95"/>
<circle cx="82.1" cy="466.8" r="3.1" fill="none" stroke="#c4c4c4" stroke-width="0.95"/>
<circle cx="82.1" cy="470.2" r="3.1" fill="none" stroke="#c4c4c4" stroke-width="0.95"/>
<circle cx="82.1" cy="473.5" r="3.1" fill="none" stroke="#c4c4c4" stroke-width="0.95"/>
<circle cx="82.1" cy="476.8" r="3.1" fill="none" stroke="#c4c4c4" stroke-width="0.95"/>
<line x1="46.199999999999996" y1="431.5" x2="89.2" y2="431.5" stroke="#111" stroke-width="1"/>
<text x="68.0" y="426.8" font-size="8.8" text-anchor="middle" fill="#000">Control</text>
<text x="82.1" y="441.6" font-size="6.0" text-anchor="middle" fill="#000" font-family="DejaVu Sans, sans-serif">★★★</text>
<text x="53.8" y="545.6" font-size="8.8" text-anchor="middle" fill="#000">Familiar</text>
<text x="82.6" y="545.6" font-size="8.8" text-anchor="middle" fill="#000">Novel</text>
<rect x="132" y="484.38275" width="14.099999999999994" height="49.117249999999984" fill="#404040"/>
<rect x="160.2" y="471.93675" width="14.100000000000023" height="61.563249999999975" fill="#ff0000"/>
<line x1="139.05" y1="478.270875" x2="139.05" y2="484.38275" stroke="#444" stroke-width="0.8"/>
<line x1="137.25" y1="478.270875" x2="140.85000000000002" y2="478.270875" stroke="#444" stroke-width="0.8"/>
<line x1="167.25" y1="465.824875" x2="167.25" y2="471.93675" stroke="#444" stroke-width="0.8"/>
<line x1="165.45" y1="465.824875" x2="169.05" y2="465.824875" stroke="#444" stroke-width="0.8"/>
<circle cx="139.1" cy="470.8" r="3.1" fill="none" stroke="#c4c4c4" stroke-width="0.95"/>
<circle cx="139.1" cy="475.2" r="3.1" fill="none" stroke="#c4c4c4" stroke-width="0.95"/>
<circle cx="139.1" cy="479.3" r="3.1" fill="none" stroke="#c4c4c4" stroke-width="0.95"/>
<circle cx="139.1" cy="500.3" r="3.1" fill="none" stroke="#c4c4c4" stroke-width="0.95"/>
<circle cx="139.1" cy="504.7" r="3.1" fill="none" stroke="#c4c4c4" stroke-width="0.95"/>
<circle cx="167.2" cy="452.2" r="3.1" fill="none" stroke="#c4c4c4" stroke-width="0.95"/>
<circle cx="167.2" cy="457.3" r="3.1" fill="none" stroke="#c4c4c4" stroke-width="0.95"/>
<circle cx="167.2" cy="475.2" r="3.1" fill="none" stroke="#c4c4c4" stroke-width="0.95"/>
<circle cx="167.2" cy="479.3" r="3.1" fill="none" stroke="#c4c4c4" stroke-width="0.95"/>
<circle cx="167.2" cy="482.7" r="3.1" fill="none" stroke="#c4c4c4" stroke-width="0.95"/>
<circle cx="167.2" cy="486.0" r="3.1" fill="none" stroke="#c4c4c4" stroke-width="0.95"/>
<line x1="131.4" y1="431.5" x2="174.3" y2="431.5" stroke="#111" stroke-width="1"/>
<text x="153.15" y="426.8" font-size="8.8" text-anchor="middle" fill="#000">ELS</text>
<line x1="131.4" y1="444.3" x2="174.3" y2="444.3" stroke="#111" stroke-width="1"/>
<text x="153.15" y="441" font-size="8.8" text-anchor="middle" fill="#000">NS</text>
<text x="139.05" y="545.6" font-size="8.8" text-anchor="middle" fill="#000">Familiar</text>
<text x="167.75" y="545.6" font-size="8.8" text-anchor="middle" fill="#000">Novel</text>
<rect x="217" y="482.715875" width="14.099999999999994" height="50.78412499999999" fill="#404040"/>
<rect x="245.2" y="473.4925" width="14.100000000000023" height="60.00749999999998" fill="#ff0000"/>
<line x1="224.05" y1="477.71524999999997" x2="224.05" y2="482.715875" stroke="#444" stroke-width="0.8"/>
<line x1="222.25" y1="477.71524999999997" x2="225.85000000000002" y2="477.71524999999997" stroke="#444" stroke-width="0.8"/>
<line x1="252.25" y1="468.491875" x2="252.25" y2="473.4925" stroke="#444" stroke-width="0.8"/>
<line x1="250.45" y1="468.491875" x2="254.05" y2="468.491875" stroke="#444" stroke-width="0.8"/>
<circle cx="224.1" cy="463.5" r="3.1" fill="none" stroke="#c4c4c4" stroke-width="0.95"/>
<circle cx="224.1" cy="474.2" r="3.1" fill="none" stroke="#c4c4c4" stroke-width="0.95"/>
<circle cx="224.1" cy="479.3" r="3.1" fill="none" stroke="#c4c4c4" stroke-width="0.95"/>
<circle cx="224.1" cy="484.4" r="3.1" fill="none" stroke="#c4c4c4" stroke-width="0.95"/>
<circle cx="224.1" cy="487.9" r="3.1" fill="none" stroke="#c4c4c4" stroke-width="0.95"/>
<circle cx="224.1" cy="492.8" r="3.1" fill="none" stroke="#c4c4c4" stroke-width="0.95"/>
<circle cx="224.1" cy="497.9" r="3.1" fill="none" stroke="#c4c4c4" stroke-width="0.95"/>
<circle cx="224.1" cy="502.4" r="3.1" fill="none" stroke="#c4c4c4" stroke-width="0.95"/>
<circle cx="252.2" cy="455.6" r="3.1" fill="none" stroke="#c4c4c4" stroke-width="0.95"/>
<circle cx="252.2" cy="459.7" r="3.1" fill="none" stroke="#c4c4c4" stroke-width="0.95"/>
<circle cx="252.2" cy="467.5" r="3.1" fill="none" stroke="#c4c4c4" stroke-width="0.95"/>
<circle cx="252.2" cy="472.5" r="3.1" fill="none" stroke="#c4c4c4" stroke-width="0.95"/>
<circle cx="252.2" cy="477.6" r="3.1" fill="none" stroke="#c4c4c4" stroke-width="0.95"/>
<circle cx="252.2" cy="482.7" r="3.1" fill="none" stroke="#c4c4c4" stroke-width="0.95"/>
<circle cx="252.2" cy="494.5" r="3.1" fill="none" stroke="#c4c4c4" stroke-width="0.95"/>
<line x1="216.4" y1="431.5" x2="259.3" y2="431.5" stroke="#111" stroke-width="1"/>
<text x="238.15" y="426.8" font-size="8.8" text-anchor="middle" fill="#000">Novel ELS</text>
<line x1="216.4" y1="444.3" x2="259.3" y2="444.3" stroke="#111" stroke-width="1"/>
<text x="238.15" y="441" font-size="8.8" text-anchor="middle" fill="#000">NS</text>
<text x="224.05" y="545.6" font-size="8.8" text-anchor="middle" fill="#000">Familiar</text>
<text x="252.75" y="545.6" font-size="8.8" text-anchor="middle" fill="#000">Novel</text>
</svg>
</body></html>
